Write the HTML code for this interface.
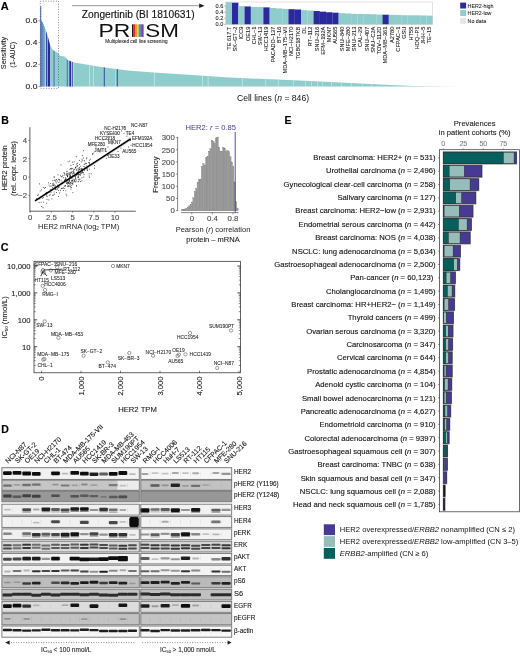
<!DOCTYPE html>
<html lang="en"><head><meta charset="utf-8"><title>Figure</title>
<style>
html,body{margin:0;padding:0;background:#fff;}
body{width:520px;height:656px;overflow:hidden;}
svg{display:block;font-family:"Liberation Sans",sans-serif;}
</style></head><body>
<svg width="520" height="656" viewBox="0 0 520 656">
<rect width="520" height="656" fill="#fff"/>
<text x="0.80" y="9.90" font-size="11" font-weight="bold" fill="#000" stroke="#000" stroke-width="0.15">A</text>
<defs><linearGradient id="fadeA" x1="0" x2="1" y1="0" y2="0"><stop offset="0" stop-color="#8ecdcb"/><stop offset="0.88" stop-color="#8ecdcb"/><stop offset="1" stop-color="#e4f2f1"/></linearGradient><clipPath id="clipA"><path d="M40.2,86.6 L40.2,6.3 L41.2,6.3 L41.2,20.8 L41.5,20.8 L43,23.2 L45.8,30.2 L48,37.2 L50,45 L52.9,49.9 L58.5,53.4 L59.9,55.8 L64.8,56.5 L67.6,60.1 L73.9,62.5 L89.4,65 L101,67 L130,70.7 L154,72.6 L200,75.6 L225,77.3 L260,78.8 L300,80.5 L340,82.6 L380,84.6 L414,85.9 L466,86.4 L466,86.6 Z"/></clipPath></defs>
<path d="M40.2,86.6 L40.2,6.3 L41.2,6.3 L41.2,20.8 L41.5,20.8 L43,23.2 L45.8,30.2 L48,37.2 L50,45 L52.9,49.9 L58.5,53.4 L59.9,55.8 L64.8,56.5 L67.6,60.1 L73.9,62.5 L89.4,65 L101,67 L130,70.7 L154,72.6 L200,75.6 L225,77.3 L260,78.8 L300,80.5 L340,82.6 L380,84.6 L414,85.9 L466,86.4 L466,86.6 Z" fill="url(#fadeA)"/>
<g clip-path="url(#clipA)">
<rect x="40.20" y="0.00" width="1.00" height="90.00" fill="#4a55ae"/>
<rect x="41.20" y="0.00" width="0.80" height="90.00" fill="#4f74b8"/>
<rect x="42.30" y="0.00" width="0.70" height="90.00" fill="#4f74b8"/>
<rect x="43.40" y="0.00" width="0.70" height="90.00" fill="#5a80bd"/>
<rect x="44.60" y="0.00" width="0.60" height="90.00" fill="#5a80bd"/>
<rect x="46.20" y="0.00" width="0.90" height="90.00" fill="#2b2a9c"/>
<rect x="47.90" y="0.00" width="2.10" height="90.00" fill="#2b2a9c"/>
<rect x="53.60" y="0.00" width="0.90" height="90.00" fill="#4a5cb0"/>
<rect x="66.80" y="0.00" width="0.90" height="90.00" fill="#4a5cb0"/>
<rect x="69.40" y="0.00" width="1.60" height="90.00" fill="#2b2a9c"/>
<rect x="72.00" y="0.00" width="0.90" height="90.00" fill="#4a5cb0"/>
<rect x="103.80" y="0.00" width="0.90" height="90.00" fill="#34379f"/>
<rect x="116.80" y="0.00" width="0.90" height="90.00" fill="#34379f"/>
<rect x="45.50" y="0.00" width="0.40" height="90.00" fill="#dcecea"/>
<rect x="73.20" y="0.00" width="0.50" height="90.00" fill="#dcecea"/>
<rect x="89.30" y="0.00" width="0.60" height="90.00" fill="#dcecea"/>
<rect x="93.40" y="0.00" width="0.60" height="90.00" fill="#dcecea"/>
<rect x="115.00" y="0.00" width="0.40" height="90.00" fill="#dcecea"/>
<rect x="154.30" y="0.00" width="0.60" height="90.00" fill="#dcecea"/>
<rect x="202.40" y="0.00" width="0.60" height="90.00" fill="#dcecea"/>
<rect x="207.80" y="0.00" width="0.60" height="90.00" fill="#dcecea"/>
<rect x="242.30" y="0.00" width="0.60" height="90.00" fill="#dcecea"/>
<rect x="265.00" y="0.00" width="0.50" height="90.00" fill="#dcecea"/>
<rect x="278.40" y="0.00" width="0.50" height="90.00" fill="#dcecea"/>
<rect x="293.40" y="0.00" width="0.50" height="90.00" fill="#dcecea"/>
<rect x="305.00" y="0.00" width="0.50" height="90.00" fill="#dcecea"/>
<rect x="311.00" y="0.00" width="0.50" height="90.00" fill="#dcecea"/>
<rect x="317.40" y="0.00" width="0.50" height="90.00" fill="#dcecea"/>
<rect x="322.40" y="0.00" width="0.50" height="90.00" fill="#dcecea"/>
<rect x="331.00" y="0.00" width="0.50" height="90.00" fill="#dcecea"/>
<rect x="341.40" y="0.00" width="0.50" height="90.00" fill="#dcecea"/>
<rect x="351.00" y="0.00" width="0.50" height="90.00" fill="#dcecea"/>
<rect x="362.00" y="0.00" width="0.50" height="90.00" fill="#dcecea"/>
<rect x="371.00" y="0.00" width="0.50" height="90.00" fill="#dcecea"/>
</g>
<text x="25.60" y="23.40" font-size="7.2" fill="#222" stroke="#222" stroke-width="0.10" textLength="11.8" lengthAdjust="spacingAndGlyphs">0.6</text>
<line x1="38.40" y1="20.80" x2="40.00" y2="20.80" stroke="#444" stroke-width="0.5"/>
<text x="25.60" y="45.00" font-size="7.2" fill="#222" stroke="#222" stroke-width="0.10" textLength="11.8" lengthAdjust="spacingAndGlyphs">0.4</text>
<line x1="38.40" y1="42.40" x2="40.00" y2="42.40" stroke="#444" stroke-width="0.5"/>
<text x="25.60" y="67.00" font-size="7.2" fill="#222" stroke="#222" stroke-width="0.10" textLength="11.8" lengthAdjust="spacingAndGlyphs">0.2</text>
<line x1="38.40" y1="64.40" x2="40.00" y2="64.40" stroke="#444" stroke-width="0.5"/>
<text x="25.60" y="88.80" font-size="7.2" fill="#222" stroke="#222" stroke-width="0.10" textLength="11.8" lengthAdjust="spacingAndGlyphs">0.0</text>
<line x1="38.40" y1="86.20" x2="40.00" y2="86.20" stroke="#444" stroke-width="0.5"/>
<text x="5.90" y="53.00" font-size="7.2" text-anchor="middle" fill="#222" stroke="#222" stroke-width="0.10" transform="rotate(-90 5.90 53.00)">Sensitivity</text>
<text x="15.50" y="54.80" font-size="7.0" text-anchor="middle" fill="#222" stroke="#222" stroke-width="0.10" transform="rotate(-90 15.50 54.80)">(1-AUC)</text>
<rect x="40.3" y="1.2" width="18.2" height="87.2" fill="none" stroke="#444" stroke-width="0.6" stroke-dasharray="1 1.6"/>
<line x1="72.00" y1="5.70" x2="200.00" y2="5.70" stroke="#999" stroke-width="1.0"/>
<path d="M199.2,3.5 L204.6,5.7 L199.2,7.9 Z" fill="#222"/>
<text x="138.20" y="18.10" font-size="10.2" text-anchor="middle" fill="#111" stroke="#111" stroke-width="0.14">Zongertinib (BI 1810631)</text>
<text x="98.6" y="36.9" font-size="17.6" fill="#111" textLength="31.8" lengthAdjust="spacingAndGlyphs">PR</text>
<rect x="132.00" y="24.30" width="1.55" height="12.60" fill="#2a1414"/>
<rect x="133.50" y="24.30" width="1.75" height="12.60" fill="#d8262c"/>
<rect x="135.20" y="24.30" width="1.75" height="12.60" fill="#f08a1d"/>
<rect x="136.90" y="24.30" width="1.70" height="12.60" fill="#f4d321"/>
<rect x="138.55" y="24.30" width="1.70" height="12.60" fill="#43b04a"/>
<rect x="140.20" y="24.30" width="1.75" height="12.60" fill="#3a6fc4"/>
<rect x="141.90" y="24.30" width="1.75" height="12.60" fill="#8a3fa8"/>
<text x="145.3" y="36.9" font-size="17.6" fill="#111" textLength="33.6" lengthAdjust="spacingAndGlyphs">SM</text>
<text x="136.50" y="43.10" font-size="4.7" text-anchor="middle" fill="#222" stroke="#222" stroke-width="0.07">Multiplexed cell line screening</text>
<rect x="225.75" y="2.16" width="6.37" height="22.34" fill="#8ecdcb"/>
<text x="230.74" y="26.70" font-size="5.6" text-anchor="end" fill="#222" stroke="#222" stroke-width="0.08" transform="rotate(-90 230.74 26.70)">TE 617.T</text>
<rect x="232.02" y="2.62" width="6.37" height="21.88" fill="#2b2a9c"/>
<text x="237.01" y="26.70" font-size="5.6" text-anchor="end" fill="#222" stroke="#222" stroke-width="0.08" transform="rotate(-90 237.01 26.70)">SK−GT−2</text>
<rect x="238.29" y="6.14" width="6.37" height="18.36" fill="#8ecdcb"/>
<text x="243.28" y="26.70" font-size="5.6" text-anchor="end" fill="#222" stroke="#222" stroke-width="0.08" transform="rotate(-90 243.28 26.70)">ICC9</text>
<rect x="244.56" y="6.45" width="6.37" height="18.05" fill="#2b2a9c"/>
<text x="249.55" y="26.70" font-size="5.6" text-anchor="end" fill="#222" stroke="#222" stroke-width="0.08" transform="rotate(-90 249.55 26.70)">OE19</text>
<rect x="250.83" y="6.91" width="6.37" height="17.59" fill="#8ecdcb"/>
<text x="255.81" y="26.70" font-size="5.6" text-anchor="end" fill="#222" stroke="#222" stroke-width="0.08" transform="rotate(-90 255.81 26.70)">CHL−1</text>
<rect x="257.10" y="7.06" width="6.37" height="17.44" fill="#8ecdcb"/>
<text x="262.09" y="26.70" font-size="5.6" text-anchor="end" fill="#222" stroke="#222" stroke-width="0.08" transform="rotate(-90 262.09 26.70)">SW−13</text>
<rect x="263.37" y="7.36" width="6.37" height="17.14" fill="#2b2a9c"/>
<text x="268.36" y="26.70" font-size="5.6" text-anchor="end" fill="#222" stroke="#222" stroke-width="0.08" transform="rotate(-90 268.36 26.70)">HCC1419</text>
<rect x="269.64" y="7.98" width="6.37" height="16.52" fill="#8ecdcb"/>
<text x="274.62" y="26.70" font-size="5.6" text-anchor="end" fill="#222" stroke="#222" stroke-width="0.08" transform="rotate(-90 274.62 26.70)">PACADD−137</text>
<rect x="275.91" y="8.43" width="6.37" height="16.07" fill="#8ecdcb"/>
<text x="280.90" y="26.70" font-size="5.6" text-anchor="end" fill="#222" stroke="#222" stroke-width="0.08" transform="rotate(-90 280.90 26.70)">BT−16</text>
<rect x="282.18" y="8.89" width="6.37" height="15.61" fill="#8ecdcb"/>
<text x="287.17" y="26.70" font-size="5.6" text-anchor="end" fill="#222" stroke="#222" stroke-width="0.08" transform="rotate(-90 287.17 26.70)">MDA−MB−175−VII</text>
<rect x="288.45" y="9.20" width="6.37" height="15.30" fill="#2b2a9c"/>
<text x="293.44" y="26.70" font-size="5.6" text-anchor="end" fill="#222" stroke="#222" stroke-width="0.08" transform="rotate(-90 293.44 26.70)">NCI−H2170</text>
<rect x="294.72" y="9.51" width="6.37" height="14.99" fill="#2b2a9c"/>
<text x="299.70" y="26.70" font-size="5.6" text-anchor="end" fill="#222" stroke="#222" stroke-width="0.08" transform="rotate(-90 299.70 26.70)">TGBC18TKB</text>
<rect x="300.99" y="10.12" width="6.37" height="14.38" fill="#8ecdcb"/>
<text x="305.98" y="26.70" font-size="5.6" text-anchor="end" fill="#222" stroke="#222" stroke-width="0.08" transform="rotate(-90 305.98 26.70)">DL</text>
<rect x="307.26" y="10.58" width="6.37" height="13.92" fill="#8ecdcb"/>
<text x="312.25" y="26.70" font-size="5.6" text-anchor="end" fill="#222" stroke="#222" stroke-width="0.08" transform="rotate(-90 312.25 26.70)">RT−112</text>
<rect x="313.53" y="11.04" width="6.37" height="13.46" fill="#2b2a9c"/>
<text x="318.52" y="26.70" font-size="5.6" text-anchor="end" fill="#222" stroke="#222" stroke-width="0.08" transform="rotate(-90 318.52 26.70)">SNU−216</text>
<rect x="319.80" y="11.65" width="6.37" height="12.85" fill="#2b2a9c"/>
<text x="324.79" y="26.70" font-size="5.6" text-anchor="end" fill="#222" stroke="#222" stroke-width="0.08" transform="rotate(-90 324.79 26.70)">EFM−192A</text>
<rect x="326.07" y="12.26" width="6.37" height="12.24" fill="#2b2a9c"/>
<text x="331.06" y="26.70" font-size="5.6" text-anchor="end" fill="#222" stroke="#222" stroke-width="0.08" transform="rotate(-90 331.06 26.70)">MKN7</text>
<rect x="332.34" y="12.72" width="6.37" height="11.78" fill="#2b2a9c"/>
<text x="337.32" y="26.70" font-size="5.6" text-anchor="end" fill="#222" stroke="#222" stroke-width="0.08" transform="rotate(-90 337.32 26.70)">AU565</text>
<rect x="338.61" y="13.18" width="6.37" height="11.32" fill="#8ecdcb"/>
<text x="343.59" y="26.70" font-size="5.6" text-anchor="end" fill="#222" stroke="#222" stroke-width="0.08" transform="rotate(-90 343.59 26.70)">SNU−840</text>
<rect x="344.88" y="13.48" width="6.37" height="11.02" fill="#8ecdcb"/>
<text x="349.87" y="26.70" font-size="5.6" text-anchor="end" fill="#222" stroke="#222" stroke-width="0.08" transform="rotate(-90 349.87 26.70)">MFE−280</text>
<rect x="351.15" y="13.79" width="6.37" height="10.71" fill="#8ecdcb"/>
<text x="356.13" y="26.70" font-size="5.6" text-anchor="end" fill="#222" stroke="#222" stroke-width="0.08" transform="rotate(-90 356.13 26.70)">SNU−213</text>
<rect x="357.42" y="13.94" width="6.37" height="10.56" fill="#8ecdcb"/>
<text x="362.41" y="26.70" font-size="5.6" text-anchor="end" fill="#222" stroke="#222" stroke-width="0.08" transform="rotate(-90 362.41 26.70)">CAL−29</text>
<rect x="363.69" y="14.10" width="6.37" height="10.40" fill="#8ecdcb"/>
<text x="368.68" y="26.70" font-size="5.6" text-anchor="end" fill="#222" stroke="#222" stroke-width="0.08" transform="rotate(-90 368.68 26.70)">SNU−407</text>
<rect x="369.96" y="14.25" width="6.37" height="10.25" fill="#8ecdcb"/>
<text x="374.94" y="26.70" font-size="5.6" text-anchor="end" fill="#222" stroke="#222" stroke-width="0.08" transform="rotate(-90 374.94 26.70)">SNU−C2A</text>
<rect x="376.23" y="14.55" width="6.37" height="9.95" fill="#8ecdcb"/>
<text x="381.21" y="26.70" font-size="5.6" text-anchor="end" fill="#222" stroke="#222" stroke-width="0.08" transform="rotate(-90 381.21 26.70)">TOV−112D</text>
<rect x="382.50" y="14.71" width="6.37" height="9.79" fill="#2b2a9c"/>
<text x="387.49" y="26.70" font-size="5.6" text-anchor="end" fill="#222" stroke="#222" stroke-width="0.08" transform="rotate(-90 387.49 26.70)">MDA−MB−361</text>
<rect x="388.77" y="14.86" width="6.37" height="9.64" fill="#8ecdcb"/>
<text x="393.75" y="26.70" font-size="5.6" text-anchor="end" fill="#222" stroke="#222" stroke-width="0.08" transform="rotate(-90 393.75 26.70)">A2780</text>
<rect x="395.04" y="15.01" width="6.37" height="9.49" fill="#8ecdcb"/>
<text x="400.03" y="26.70" font-size="5.6" text-anchor="end" fill="#222" stroke="#222" stroke-width="0.08" transform="rotate(-90 400.03 26.70)">CFPAC−1</text>
<rect x="401.31" y="15.17" width="6.37" height="9.33" fill="#8ecdcb"/>
<text x="406.30" y="26.70" font-size="5.6" text-anchor="end" fill="#222" stroke="#222" stroke-width="0.08" transform="rotate(-90 406.30 26.70)">GSU</text>
<rect x="407.58" y="15.32" width="6.37" height="9.18" fill="#8ecdcb"/>
<text x="412.56" y="26.70" font-size="5.6" text-anchor="end" fill="#222" stroke="#222" stroke-width="0.08" transform="rotate(-90 412.56 26.70)">HT55</text>
<rect x="413.85" y="15.32" width="6.37" height="9.18" fill="#8ecdcb"/>
<text x="418.83" y="26.70" font-size="5.6" text-anchor="end" fill="#222" stroke="#222" stroke-width="0.08" transform="rotate(-90 418.83 26.70)">HDQ−P1</text>
<rect x="420.12" y="15.47" width="6.37" height="9.03" fill="#8ecdcb"/>
<text x="425.10" y="26.70" font-size="5.6" text-anchor="end" fill="#222" stroke="#222" stroke-width="0.08" transform="rotate(-90 425.10 26.70)">JHH−5</text>
<rect x="426.39" y="15.63" width="6.37" height="8.87" fill="#8ecdcb"/>
<text x="431.38" y="26.70" font-size="5.6" text-anchor="end" fill="#222" stroke="#222" stroke-width="0.08" transform="rotate(-90 431.38 26.70)">TE−15</text>
<rect x="225.8" y="2.0" width="206.91" height="22.5" fill="none" stroke="#c8c8c8" stroke-width="0.5"/>
<text x="215.60" y="7.90" font-size="5.0" fill="#222" stroke="#222" stroke-width="0.07" textLength="7.8" lengthAdjust="spacingAndGlyphs">0.6</text>
<line x1="224.20" y1="6.10" x2="225.80" y2="6.10" stroke="#555" stroke-width="0.4"/>
<text x="215.60" y="14.00" font-size="5.0" fill="#222" stroke="#222" stroke-width="0.07" textLength="7.8" lengthAdjust="spacingAndGlyphs">0.4</text>
<line x1="224.20" y1="12.20" x2="225.80" y2="12.20" stroke="#555" stroke-width="0.4"/>
<text x="215.60" y="20.10" font-size="5.0" fill="#222" stroke="#222" stroke-width="0.07" textLength="7.8" lengthAdjust="spacingAndGlyphs">0.2</text>
<line x1="224.20" y1="18.30" x2="225.80" y2="18.30" stroke="#555" stroke-width="0.4"/>
<text x="215.60" y="26.20" font-size="5.0" fill="#222" stroke="#222" stroke-width="0.07" textLength="7.8" lengthAdjust="spacingAndGlyphs">0.0</text>
<line x1="224.20" y1="24.40" x2="225.80" y2="24.40" stroke="#555" stroke-width="0.4"/>
<rect x="460.20" y="2.60" width="5.90" height="5.90" fill="#2b2a9c"/>
<text x="467.60" y="7.50" font-size="5.3" fill="#222" stroke="#222" stroke-width="0.07">HER2-high</text>
<rect x="460.20" y="10.10" width="5.90" height="5.90" fill="#8ecdcb"/>
<text x="467.60" y="15.00" font-size="5.3" fill="#222" stroke="#222" stroke-width="0.07">HER2-low</text>
<rect x="460.20" y="17.90" width="5.90" height="5.90" fill="#e6e6e6"/>
<text x="467.60" y="22.80" font-size="5.3" fill="#222" stroke="#222" stroke-width="0.07">No data</text>
<text x="273" y="101.2" font-size="8.65" text-anchor="middle" fill="#111">Cell lines (<tspan font-style="italic">n</tspan> = 846)</text>
<text x="1.20" y="123.60" font-size="10.5" font-weight="bold" fill="#000" stroke="#000" stroke-width="0.15">B</text>
<path d="M35,199.6 L82,171.1 L130.7,136.8 L130.7,140.8 L82,172.3 L35,202 Z" fill="#9a9a9a" opacity="0.4"/>
<path d="M89.1,176.0h0M68.1,174.8h0M72.9,192.6h0M76.6,186.1h0M64.9,180.2h0M72.6,162.2h0M72.6,175.9h0M55.5,188.0h0M82.5,155.7h0M78.5,173.1h0M66.5,179.1h0M70.9,172.6h0M77.5,177.1h0M70.1,184.3h0M70.2,175.0h0M58.4,187.0h0M78.0,168.9h0M73.8,170.8h0M75.3,175.2h0M57.7,189.3h0M88.7,162.5h0M74.1,161.7h0M68.8,182.5h0M92.4,153.7h0M72.2,177.5h0M58.5,196.6h0M68.6,178.9h0M50.3,183.5h0M82.8,160.7h0M68.5,186.3h0M65.4,181.0h0M83.1,173.0h0M56.5,192.6h0M77.8,172.7h0M52.5,187.6h0M66.1,174.7h0M60.9,164.9h0M86.9,157.8h0M89.8,164.8h0M69.4,177.4h0M80.8,173.6h0M70.8,176.8h0M78.1,173.8h0M65.3,186.1h0M55.9,181.7h0M55.0,186.0h0M76.3,164.0h0M94.5,168.3h0M75.2,175.0h0M67.5,182.8h0M91.2,173.9h0M74.9,181.6h0M73.6,175.4h0M75.1,179.7h0M71.3,168.4h0M69.6,181.1h0M58.6,186.4h0M77.5,163.2h0M71.7,185.3h0M84.2,164.5h0M69.0,183.0h0M54.0,185.9h0M71.6,183.2h0M89.2,173.8h0M68.9,173.7h0M63.9,172.6h0M61.0,183.2h0M62.4,188.3h0M69.7,176.0h0M61.1,180.1h0M87.2,170.0h0M69.8,161.1h0M73.7,171.6h0M86.6,158.8h0M87.3,168.8h0M70.5,173.2h0M75.8,167.4h0M79.8,169.6h0M70.7,168.5h0M55.3,187.6h0M79.0,168.1h0M81.3,168.4h0M76.7,169.4h0M63.6,187.9h0M70.7,177.0h0M66.8,183.4h0M69.7,181.3h0M85.2,163.2h0M87.5,170.3h0M79.1,174.4h0M78.0,174.9h0M79.2,169.7h0M72.5,173.9h0M71.9,181.8h0M66.0,194.2h0M72.1,171.6h0M94.6,165.5h0M81.1,168.7h0M69.3,183.5h0M68.0,182.1h0M64.2,188.5h0M76.3,156.7h0M76.4,170.2h0M58.5,179.4h0M77.3,172.7h0M67.0,175.5h0M86.5,163.4h0M74.1,179.7h0M89.4,177.4h0M68.1,161.8h0M69.8,176.3h0M75.5,176.5h0M82.9,169.8h0M78.1,170.7h0M60.6,175.8h0M74.4,169.4h0M72.8,180.8h0M68.4,185.8h0M66.3,181.1h0M89.6,160.2h0M68.8,179.5h0M64.4,180.3h0M78.8,175.8h0M73.9,176.3h0M71.9,173.1h0M80.2,172.7h0M77.4,166.0h0M76.1,179.2h0M82.0,177.7h0M75.4,167.3h0M66.6,182.9h0M69.1,172.6h0M67.5,186.4h0M74.6,180.7h0M62.1,181.8h0M54.7,194.2h0M73.5,173.2h0M59.6,180.9h0M53.6,185.2h0M76.2,173.2h0M65.7,178.9h0M77.4,174.3h0M67.4,176.0h0M61.7,188.3h0M60.5,190.6h0M67.6,176.6h0M69.9,169.3h0M64.6,186.1h0M69.9,185.3h0M57.6,185.1h0M72.7,168.4h0M55.1,189.4h0M70.7,187.1h0M79.4,160.4h0M83.2,172.5h0M89.3,163.7h0M57.4,181.0h0M80.0,174.7h0M84.4,160.8h0M82.2,172.1h0M63.5,190.5h0M76.6,174.9h0M90.7,159.2h0M58.0,174.9h0M77.2,165.5h0M83.4,158.0h0M65.8,190.8h0M78.3,171.2h0M62.2,176.7h0M64.7,173.5h0M64.6,175.0h0M74.5,173.1h0M71.7,169.1h0M81.9,180.8h0M63.4,177.7h0M71.3,172.4h0M82.0,172.3h0M78.1,181.9h0M59.7,193.0h0M79.1,169.2h0M67.9,181.0h0M76.4,174.9h0M75.5,177.8h0M84.5,170.3h0M73.7,169.8h0M54.5,180.3h0M59.2,186.2h0M79.7,164.5h0M70.1,186.5h0M83.7,169.5h0M75.3,168.3h0M65.3,179.2h0M83.2,166.4h0M64.7,180.7h0M52.6,195.3h0M92.7,154.4h0M54.0,176.9h0M78.8,174.5h0M81.8,169.4h0M74.0,176.5h0M56.2,189.8h0M82.5,168.9h0M58.5,190.5h0M59.5,179.4h0M69.1,179.1h0M80.3,166.3h0M75.5,167.5h0M80.5,175.1h0M68.3,182.8h0M70.9,165.5h0M61.5,176.7h0M69.5,180.2h0M78.4,179.3h0M69.7,174.2h0M77.2,172.3h0M67.0,171.3h0M66.8,195.7h0M73.0,179.1h0M70.7,183.2h0M78.4,176.8h0M74.3,181.1h0M89.6,169.2h0M70.5,175.7h0M70.4,182.5h0M62.5,183.5h0M72.8,184.3h0M79.3,167.6h0M65.4,177.8h0M72.1,180.8h0M79.6,179.8h0M71.4,178.1h0M67.5,175.3h0M82.1,169.5h0M73.5,172.7h0M76.5,185.7h0M84.0,174.6h0M83.8,177.0h0M69.2,180.5h0M67.5,176.3h0M75.4,181.9h0M71.3,187.5h0M54.1,192.0h0M85.0,168.2h0M72.8,183.0h0M79.8,169.5h0M61.2,188.6h0M85.2,163.9h0M66.9,174.1h0M71.6,180.6h0M58.9,187.4h0M71.0,189.3h0M70.4,176.2h0M70.8,177.8h0M76.9,166.6h0M73.2,164.5h0M82.1,159.2h0M68.0,182.3h0M62.9,175.4h0M72.4,183.5h0M78.7,181.3h0M84.7,166.8h0M80.5,181.6h0M55.4,189.0h0M76.3,181.0h0M86.8,165.8h0M73.2,182.0h0M67.6,173.8h0M75.6,178.3h0M67.7,176.8h0M78.8,171.6h0M72.5,180.4h0M86.2,168.7h0M77.5,172.8h0M65.5,185.5h0M78.5,177.6h0M81.7,161.9h0M67.1,183.5h0M68.4,183.3h0M50.1,186.3h0M81.4,173.1h0M66.9,171.9h0M51.9,198.8h0M55.4,186.1h0M70.4,177.4h0M80.0,179.1h0M46.6,192.4h0M50.2,194.7h0M40.2,191.0h0M38.6,194.9h0M52.8,180.6h0M50.3,189.6h0M47.0,199.4h0M55.3,189.0h0M41.1,202.3h0M44.5,188.3h0M53.7,183.2h0M58.8,182.5h0M47.2,196.4h0M57.8,188.2h0M43.3,195.3h0M49.3,195.4h0M46.1,192.7h0M37.1,199.3h0M48.8,199.9h0M53.1,185.4h0M46.2,194.7h0M46.7,203.2h0M56.0,187.8h0M39.2,202.5h0M37.6,195.3h0M43.0,207.7h0M39.5,183.9h0M55.7,180.3h0M49.1,185.1h0M41.7,206.5h0M43.3,197.6h0M65.4,179.5h0M43.3,187.5h0M42.3,198.3h0M49.1,192.4h0M51.2,186.0h0M48.6,182.8h0M41.4,189.8h0M39.8,199.0h0M51.0,192.4h0M46.8,193.6h0M36.7,198.7h0M54.6,177.1h0M52.1,190.0h0M45.6,187.5h0M104.3,156.1h0M46.8,196.0h0M56.2,182.9h0M66.5,174.0h0M53.5,195.0h0M82.6,172.1h0M54.1,184.5h0M83.6,150.7h0M113.9,149.4h0M106.5,158.3h0M43.6,202.2h0M52.7,185.2h0M69.9,174.2h0M89.5,162.7h0M67.7,184.8h0M56.4,179.6h0M64.2,181.2h0M52.4,183.8h0M107.6,155.4h0M93.8,153.0h0M103.0,140.0h0M108.0,137.5h0M113.0,134.6h0M117.0,133.0h0M121.5,131.0h0M124.0,133.5h0M127.0,136.2h0M130.5,140.6h0M131.0,145.3h0M128.5,147.0h0M121.0,148.2h0M118.0,151.5h0M112.0,144.0h0M108.0,147.0h0M124.5,127.2h0M96.0,147.0h0M100.0,152.0h0M105.0,150.0h0" stroke="#1c1c1c" stroke-width="0.92" stroke-linecap="round" fill="none" opacity="0.95"/>
<line x1="35.00" y1="200.80" x2="130.70" y2="138.80" stroke="#000" stroke-width="1.5"/>
<line x1="29.90" y1="127.20" x2="29.90" y2="211.55" stroke="#2a2a2a" stroke-width="0.75"/>
<line x1="29.55" y1="211.20" x2="135.80" y2="211.20" stroke="#2a2a2a" stroke-width="0.75"/>
<text x="27.00" y="143.20" font-size="7.8" text-anchor="end" fill="#4a4a4a" stroke="#4a4a4a" stroke-width="0.11">4</text>
<line x1="28.30" y1="140.40" x2="29.90" y2="140.40" stroke="#333" stroke-width="0.5"/>
<text x="27.00" y="161.50" font-size="7.8" text-anchor="end" fill="#4a4a4a" stroke="#4a4a4a" stroke-width="0.11">2</text>
<line x1="28.30" y1="158.70" x2="29.90" y2="158.70" stroke="#333" stroke-width="0.5"/>
<text x="27.00" y="179.80" font-size="7.8" text-anchor="end" fill="#4a4a4a" stroke="#4a4a4a" stroke-width="0.11">0</text>
<line x1="28.30" y1="177.00" x2="29.90" y2="177.00" stroke="#333" stroke-width="0.5"/>
<text x="27.00" y="198.10" font-size="7.8" text-anchor="end" fill="#4a4a4a" stroke="#4a4a4a" stroke-width="0.11">−2</text>
<line x1="28.30" y1="195.30" x2="29.90" y2="195.30" stroke="#333" stroke-width="0.5"/>
<text x="30.20" y="219.90" font-size="7.8" text-anchor="middle" fill="#4a4a4a" stroke="#4a4a4a" stroke-width="0.11">0</text>
<line x1="30.20" y1="211.20" x2="30.20" y2="212.80" stroke="#333" stroke-width="0.5"/>
<text x="51.40" y="219.90" font-size="7.8" text-anchor="middle" fill="#4a4a4a" stroke="#4a4a4a" stroke-width="0.11">2.5</text>
<line x1="51.40" y1="211.20" x2="51.40" y2="212.80" stroke="#333" stroke-width="0.5"/>
<text x="72.60" y="219.90" font-size="7.8" text-anchor="middle" fill="#4a4a4a" stroke="#4a4a4a" stroke-width="0.11">5</text>
<line x1="72.60" y1="211.20" x2="72.60" y2="212.80" stroke="#333" stroke-width="0.5"/>
<text x="93.80" y="219.90" font-size="7.8" text-anchor="middle" fill="#4a4a4a" stroke="#4a4a4a" stroke-width="0.11">7.5</text>
<line x1="93.80" y1="211.20" x2="93.80" y2="212.80" stroke="#333" stroke-width="0.5"/>
<text x="115.00" y="219.90" font-size="7.8" text-anchor="middle" fill="#4a4a4a" stroke="#4a4a4a" stroke-width="0.11">10</text>
<line x1="115.00" y1="211.20" x2="115.00" y2="212.80" stroke="#333" stroke-width="0.5"/>
<text x="78.6" y="228.9" font-size="7.5" text-anchor="middle" fill="#222">HER2 mRNA (log<tspan font-size="4.6" dy="1.3">2</tspan><tspan dy="-1.3"> TPM)</tspan></text>
<text x="6.80" y="167.80" font-size="7.5" text-anchor="middle" fill="#222" stroke="#222" stroke-width="0.10" transform="rotate(-90 6.80 167.80)">HER2 protein</text>
<text x="16.00" y="168.60" font-size="7.5" text-anchor="middle" fill="#222" stroke="#222" stroke-width="0.10" transform="rotate(-90 16.00 168.60)">(rel. expr. levels)</text>
<text x="104.30" y="129.65" font-size="4.6" fill="#222" stroke="#222" stroke-width="0.07">NC-H2170</text>
<text x="131.00" y="127.35" font-size="4.6" fill="#222" stroke="#222" stroke-width="0.07">NC-N87</text>
<text x="100.00" y="134.65" font-size="4.6" fill="#222" stroke="#222" stroke-width="0.07">KYSE410</text>
<text x="125.80" y="135.45" font-size="4.6" fill="#222" stroke="#222" stroke-width="0.07">TE4</text>
<text x="95.00" y="139.65" font-size="4.6" fill="#222" stroke="#222" stroke-width="0.07">HCC2218</text>
<text x="132.00" y="140.45" font-size="4.6" fill="#222" stroke="#222" stroke-width="0.07">EFM192A</text>
<text x="87.70" y="145.85" font-size="4.6" fill="#222" stroke="#222" stroke-width="0.07">MFE280</text>
<text x="108.00" y="143.85" font-size="4.6" fill="#222" stroke="#222" stroke-width="0.07">MKN7</text>
<text x="132.30" y="146.85" font-size="4.6" fill="#222" stroke="#222" stroke-width="0.07">HCC1954</text>
<text x="94.20" y="151.95" font-size="4.6" fill="#222" stroke="#222" stroke-width="0.07">JIMT1</text>
<text x="122.30" y="152.65" font-size="4.6" fill="#222" stroke="#222" stroke-width="0.07">AU565</text>
<text x="107.70" y="158.15" font-size="4.6" fill="#222" stroke="#222" stroke-width="0.07">OE33</text>
<rect x="181.50" y="210.20" width="56.65" height="0.80" fill="#8c8c8c"/>
<rect x="181.50" y="209.73" width="1.42" height="0.87" fill="#9b9b9b" stroke="#7e7e7e" stroke-width="0.3"/>
<rect x="182.92" y="209.43" width="1.42" height="1.17" fill="#9b9b9b" stroke="#7e7e7e" stroke-width="0.3"/>
<rect x="184.33" y="208.98" width="1.42" height="1.62" fill="#9b9b9b" stroke="#7e7e7e" stroke-width="0.3"/>
<rect x="185.75" y="208.25" width="1.42" height="2.35" fill="#9b9b9b" stroke="#7e7e7e" stroke-width="0.3"/>
<rect x="187.17" y="207.03" width="1.42" height="3.57" fill="#9b9b9b" stroke="#7e7e7e" stroke-width="0.3"/>
<rect x="188.58" y="205.85" width="1.42" height="4.75" fill="#9b9b9b" stroke="#7e7e7e" stroke-width="0.3"/>
<rect x="190.00" y="204.64" width="1.42" height="5.96" fill="#9b9b9b" stroke="#7e7e7e" stroke-width="0.3"/>
<rect x="191.41" y="202.07" width="1.42" height="8.53" fill="#9b9b9b" stroke="#7e7e7e" stroke-width="0.3"/>
<rect x="192.83" y="197.58" width="1.42" height="13.02" fill="#9b9b9b" stroke="#7e7e7e" stroke-width="0.3"/>
<rect x="194.25" y="191.69" width="1.42" height="18.91" fill="#9b9b9b" stroke="#7e7e7e" stroke-width="0.3"/>
<rect x="195.66" y="188.30" width="1.42" height="22.30" fill="#9b9b9b" stroke="#7e7e7e" stroke-width="0.3"/>
<rect x="197.08" y="182.12" width="1.42" height="28.48" fill="#9b9b9b" stroke="#7e7e7e" stroke-width="0.3"/>
<rect x="198.50" y="179.18" width="1.42" height="31.42" fill="#9b9b9b" stroke="#7e7e7e" stroke-width="0.3"/>
<rect x="199.91" y="179.49" width="1.42" height="31.11" fill="#9b9b9b" stroke="#7e7e7e" stroke-width="0.3"/>
<rect x="201.33" y="166.63" width="1.42" height="43.97" fill="#9b9b9b" stroke="#7e7e7e" stroke-width="0.3"/>
<rect x="202.74" y="163.70" width="1.42" height="46.90" fill="#9b9b9b" stroke="#7e7e7e" stroke-width="0.3"/>
<rect x="204.16" y="165.16" width="1.42" height="45.44" fill="#9b9b9b" stroke="#7e7e7e" stroke-width="0.3"/>
<rect x="205.58" y="157.24" width="1.42" height="53.36" fill="#9b9b9b" stroke="#7e7e7e" stroke-width="0.3"/>
<rect x="206.99" y="156.23" width="1.42" height="54.37" fill="#9b9b9b" stroke="#7e7e7e" stroke-width="0.3"/>
<rect x="208.41" y="151.14" width="1.42" height="59.46" fill="#9b9b9b" stroke="#7e7e7e" stroke-width="0.3"/>
<rect x="209.83" y="148.62" width="1.42" height="61.98" fill="#9b9b9b" stroke="#7e7e7e" stroke-width="0.3"/>
<rect x="211.24" y="140.37" width="1.42" height="70.23" fill="#9b9b9b" stroke="#7e7e7e" stroke-width="0.3"/>
<rect x="212.66" y="141.26" width="1.42" height="69.34" fill="#9b9b9b" stroke="#7e7e7e" stroke-width="0.3"/>
<rect x="214.07" y="143.55" width="1.42" height="67.05" fill="#9b9b9b" stroke="#7e7e7e" stroke-width="0.3"/>
<rect x="215.49" y="137.86" width="1.42" height="72.74" fill="#9b9b9b" stroke="#7e7e7e" stroke-width="0.3"/>
<rect x="216.91" y="137.09" width="1.42" height="73.51" fill="#9b9b9b" stroke="#7e7e7e" stroke-width="0.3"/>
<rect x="218.32" y="147.15" width="1.42" height="63.45" fill="#9b9b9b" stroke="#7e7e7e" stroke-width="0.3"/>
<rect x="219.74" y="151.02" width="1.42" height="59.58" fill="#9b9b9b" stroke="#7e7e7e" stroke-width="0.3"/>
<rect x="221.16" y="151.39" width="1.42" height="59.21" fill="#9b9b9b" stroke="#7e7e7e" stroke-width="0.3"/>
<rect x="222.57" y="147.29" width="1.42" height="63.31" fill="#9b9b9b" stroke="#7e7e7e" stroke-width="0.3"/>
<rect x="223.99" y="148.00" width="1.42" height="62.60" fill="#9b9b9b" stroke="#7e7e7e" stroke-width="0.3"/>
<rect x="225.40" y="151.63" width="1.42" height="58.97" fill="#9b9b9b" stroke="#7e7e7e" stroke-width="0.3"/>
<rect x="226.82" y="150.36" width="1.42" height="60.24" fill="#9b9b9b" stroke="#7e7e7e" stroke-width="0.3"/>
<rect x="228.24" y="151.78" width="1.42" height="58.82" fill="#9b9b9b" stroke="#7e7e7e" stroke-width="0.3"/>
<rect x="229.65" y="156.80" width="1.42" height="53.80" fill="#9b9b9b" stroke="#7e7e7e" stroke-width="0.3"/>
<rect x="231.07" y="161.98" width="1.42" height="48.62" fill="#9b9b9b" stroke="#7e7e7e" stroke-width="0.3"/>
<rect x="232.49" y="166.20" width="1.42" height="44.40" fill="#9b9b9b" stroke="#7e7e7e" stroke-width="0.3"/>
<rect x="233.90" y="182.02" width="1.42" height="28.58" fill="#9b9b9b" stroke="#7e7e7e" stroke-width="0.3"/>
<rect x="235.32" y="201.82" width="1.42" height="8.78" fill="#9b9b9b" stroke="#7e7e7e" stroke-width="0.3"/>
<rect x="236.73" y="208.01" width="1.42" height="2.59" fill="#9b9b9b" stroke="#7e7e7e" stroke-width="0.3"/>
<line x1="177.60" y1="136.90" x2="177.60" y2="210.90" stroke="#333" stroke-width="0.6"/>
<text x="174.80" y="213.40" font-size="7.8" text-anchor="end" fill="#4a4a4a" stroke="#4a4a4a" stroke-width="0.11">0</text>
<line x1="175.90" y1="210.60" x2="177.60" y2="210.60" stroke="#333" stroke-width="0.5"/>
<text x="174.80" y="201.23" font-size="7.8" text-anchor="end" fill="#4a4a4a" stroke="#4a4a4a" stroke-width="0.11">50</text>
<line x1="175.90" y1="198.43" x2="177.60" y2="198.43" stroke="#333" stroke-width="0.5"/>
<text x="174.80" y="189.06" font-size="7.8" text-anchor="end" fill="#4a4a4a" stroke="#4a4a4a" stroke-width="0.11">100</text>
<line x1="175.90" y1="186.26" x2="177.60" y2="186.26" stroke="#333" stroke-width="0.5"/>
<text x="174.80" y="176.89" font-size="7.8" text-anchor="end" fill="#4a4a4a" stroke="#4a4a4a" stroke-width="0.11">150</text>
<line x1="175.90" y1="174.09" x2="177.60" y2="174.09" stroke="#333" stroke-width="0.5"/>
<text x="174.80" y="164.72" font-size="7.8" text-anchor="end" fill="#4a4a4a" stroke="#4a4a4a" stroke-width="0.11">200</text>
<line x1="175.90" y1="161.92" x2="177.60" y2="161.92" stroke="#333" stroke-width="0.5"/>
<text x="174.80" y="152.55" font-size="7.8" text-anchor="end" fill="#4a4a4a" stroke="#4a4a4a" stroke-width="0.11">250</text>
<line x1="175.90" y1="149.75" x2="177.60" y2="149.75" stroke="#333" stroke-width="0.5"/>
<text x="174.80" y="140.38" font-size="7.8" text-anchor="end" fill="#4a4a4a" stroke="#4a4a4a" stroke-width="0.11">300</text>
<line x1="175.90" y1="137.58" x2="177.60" y2="137.58" stroke="#333" stroke-width="0.5"/>
<line x1="181.30" y1="212.60" x2="238.60" y2="212.60" stroke="#333" stroke-width="0.6"/>
<text x="191.80" y="221.40" font-size="7.8" text-anchor="middle" fill="#4a4a4a" stroke="#4a4a4a" stroke-width="0.11">0</text>
<line x1="191.80" y1="212.60" x2="191.80" y2="214.30" stroke="#333" stroke-width="0.5"/>
<text x="212.40" y="221.40" font-size="7.8" text-anchor="middle" fill="#4a4a4a" stroke="#4a4a4a" stroke-width="0.11">0.4</text>
<line x1="212.40" y1="212.60" x2="212.40" y2="214.30" stroke="#333" stroke-width="0.5"/>
<text x="233.00" y="221.40" font-size="7.8" text-anchor="middle" fill="#4a4a4a" stroke="#4a4a4a" stroke-width="0.11">0.8</text>
<line x1="233.00" y1="212.60" x2="233.00" y2="214.30" stroke="#333" stroke-width="0.5"/>
<line x1="235.20" y1="132.00" x2="235.20" y2="212.60" stroke="#3f3a96" stroke-width="0.9"/>
<text x="210.8" y="130.4" font-size="7.6" text-anchor="middle" fill="#3f3a96">HER2: <tspan font-style="italic">r</tspan> = 0.85</text>
<text x="157.80" y="174.60" font-size="7.7" text-anchor="middle" fill="#222" stroke="#222" stroke-width="0.11" transform="rotate(-90 157.80 174.60)">Frequency</text>
<text x="213" y="231.6" font-size="7.5" text-anchor="middle" fill="#222">Pearson (<tspan font-style="italic">r</tspan>) correlation</text>
<text x="213.00" y="241.60" font-size="7.5" text-anchor="middle" fill="#222" stroke="#222" stroke-width="0.10">protein – mRNA</text>
<text x="0.70" y="250.50" font-size="10.8" font-weight="bold" fill="#000" stroke="#000" stroke-width="0.15">C</text>
<rect x="34.0" y="261.3" width="206.5" height="111.5" fill="none" stroke="#222" stroke-width="0.7"/>
<text x="30.60" y="268.80" font-size="7.7" text-anchor="end" fill="#222" stroke="#222" stroke-width="0.11">10,000</text>
<line x1="34.00" y1="266.00" x2="37.20" y2="266.00" stroke="#222" stroke-width="0.8"/>
<line x1="237.30" y1="266.00" x2="240.50" y2="266.00" stroke="#222" stroke-width="0.8"/>
<text x="30.60" y="295.70" font-size="7.7" text-anchor="end" fill="#222" stroke="#222" stroke-width="0.11">1,000</text>
<line x1="34.00" y1="292.90" x2="37.20" y2="292.90" stroke="#222" stroke-width="0.8"/>
<line x1="237.30" y1="292.90" x2="240.50" y2="292.90" stroke="#222" stroke-width="0.8"/>
<text x="30.60" y="322.60" font-size="7.7" text-anchor="end" fill="#222" stroke="#222" stroke-width="0.11">100</text>
<line x1="34.00" y1="319.80" x2="37.20" y2="319.80" stroke="#222" stroke-width="0.8"/>
<line x1="237.30" y1="319.80" x2="240.50" y2="319.80" stroke="#222" stroke-width="0.8"/>
<text x="30.60" y="349.50" font-size="7.7" text-anchor="end" fill="#222" stroke="#222" stroke-width="0.11">10</text>
<line x1="34.00" y1="346.70" x2="37.20" y2="346.70" stroke="#222" stroke-width="0.8"/>
<line x1="237.30" y1="346.70" x2="240.50" y2="346.70" stroke="#222" stroke-width="0.8"/>
<line x1="34.00" y1="365.50" x2="35.70" y2="365.50" stroke="#222" stroke-width="0.55"/>
<line x1="238.80" y1="365.50" x2="240.50" y2="365.50" stroke="#222" stroke-width="0.55"/>
<line x1="34.00" y1="360.77" x2="35.70" y2="360.77" stroke="#222" stroke-width="0.55"/>
<line x1="238.80" y1="360.77" x2="240.50" y2="360.77" stroke="#222" stroke-width="0.55"/>
<line x1="34.00" y1="357.40" x2="35.70" y2="357.40" stroke="#222" stroke-width="0.55"/>
<line x1="238.80" y1="357.40" x2="240.50" y2="357.40" stroke="#222" stroke-width="0.55"/>
<line x1="34.00" y1="354.80" x2="35.70" y2="354.80" stroke="#222" stroke-width="0.55"/>
<line x1="238.80" y1="354.80" x2="240.50" y2="354.80" stroke="#222" stroke-width="0.55"/>
<line x1="34.00" y1="352.67" x2="35.70" y2="352.67" stroke="#222" stroke-width="0.55"/>
<line x1="238.80" y1="352.67" x2="240.50" y2="352.67" stroke="#222" stroke-width="0.55"/>
<line x1="34.00" y1="350.87" x2="35.70" y2="350.87" stroke="#222" stroke-width="0.55"/>
<line x1="238.80" y1="350.87" x2="240.50" y2="350.87" stroke="#222" stroke-width="0.55"/>
<line x1="34.00" y1="349.31" x2="35.70" y2="349.31" stroke="#222" stroke-width="0.55"/>
<line x1="238.80" y1="349.31" x2="240.50" y2="349.31" stroke="#222" stroke-width="0.55"/>
<line x1="34.00" y1="347.93" x2="35.70" y2="347.93" stroke="#222" stroke-width="0.55"/>
<line x1="238.80" y1="347.93" x2="240.50" y2="347.93" stroke="#222" stroke-width="0.55"/>
<line x1="34.00" y1="338.60" x2="35.70" y2="338.60" stroke="#222" stroke-width="0.55"/>
<line x1="238.80" y1="338.60" x2="240.50" y2="338.60" stroke="#222" stroke-width="0.55"/>
<line x1="34.00" y1="333.87" x2="35.70" y2="333.87" stroke="#222" stroke-width="0.55"/>
<line x1="238.80" y1="333.87" x2="240.50" y2="333.87" stroke="#222" stroke-width="0.55"/>
<line x1="34.00" y1="330.50" x2="35.70" y2="330.50" stroke="#222" stroke-width="0.55"/>
<line x1="238.80" y1="330.50" x2="240.50" y2="330.50" stroke="#222" stroke-width="0.55"/>
<line x1="34.00" y1="327.90" x2="35.70" y2="327.90" stroke="#222" stroke-width="0.55"/>
<line x1="238.80" y1="327.90" x2="240.50" y2="327.90" stroke="#222" stroke-width="0.55"/>
<line x1="34.00" y1="325.77" x2="35.70" y2="325.77" stroke="#222" stroke-width="0.55"/>
<line x1="238.80" y1="325.77" x2="240.50" y2="325.77" stroke="#222" stroke-width="0.55"/>
<line x1="34.00" y1="323.97" x2="35.70" y2="323.97" stroke="#222" stroke-width="0.55"/>
<line x1="238.80" y1="323.97" x2="240.50" y2="323.97" stroke="#222" stroke-width="0.55"/>
<line x1="34.00" y1="322.41" x2="35.70" y2="322.41" stroke="#222" stroke-width="0.55"/>
<line x1="238.80" y1="322.41" x2="240.50" y2="322.41" stroke="#222" stroke-width="0.55"/>
<line x1="34.00" y1="321.03" x2="35.70" y2="321.03" stroke="#222" stroke-width="0.55"/>
<line x1="238.80" y1="321.03" x2="240.50" y2="321.03" stroke="#222" stroke-width="0.55"/>
<line x1="34.00" y1="311.70" x2="35.70" y2="311.70" stroke="#222" stroke-width="0.55"/>
<line x1="238.80" y1="311.70" x2="240.50" y2="311.70" stroke="#222" stroke-width="0.55"/>
<line x1="34.00" y1="306.97" x2="35.70" y2="306.97" stroke="#222" stroke-width="0.55"/>
<line x1="238.80" y1="306.97" x2="240.50" y2="306.97" stroke="#222" stroke-width="0.55"/>
<line x1="34.00" y1="303.60" x2="35.70" y2="303.60" stroke="#222" stroke-width="0.55"/>
<line x1="238.80" y1="303.60" x2="240.50" y2="303.60" stroke="#222" stroke-width="0.55"/>
<line x1="34.00" y1="301.00" x2="35.70" y2="301.00" stroke="#222" stroke-width="0.55"/>
<line x1="238.80" y1="301.00" x2="240.50" y2="301.00" stroke="#222" stroke-width="0.55"/>
<line x1="34.00" y1="298.87" x2="35.70" y2="298.87" stroke="#222" stroke-width="0.55"/>
<line x1="238.80" y1="298.87" x2="240.50" y2="298.87" stroke="#222" stroke-width="0.55"/>
<line x1="34.00" y1="297.07" x2="35.70" y2="297.07" stroke="#222" stroke-width="0.55"/>
<line x1="238.80" y1="297.07" x2="240.50" y2="297.07" stroke="#222" stroke-width="0.55"/>
<line x1="34.00" y1="295.51" x2="35.70" y2="295.51" stroke="#222" stroke-width="0.55"/>
<line x1="238.80" y1="295.51" x2="240.50" y2="295.51" stroke="#222" stroke-width="0.55"/>
<line x1="34.00" y1="294.13" x2="35.70" y2="294.13" stroke="#222" stroke-width="0.55"/>
<line x1="238.80" y1="294.13" x2="240.50" y2="294.13" stroke="#222" stroke-width="0.55"/>
<line x1="34.00" y1="284.80" x2="35.70" y2="284.80" stroke="#222" stroke-width="0.55"/>
<line x1="238.80" y1="284.80" x2="240.50" y2="284.80" stroke="#222" stroke-width="0.55"/>
<line x1="34.00" y1="280.07" x2="35.70" y2="280.07" stroke="#222" stroke-width="0.55"/>
<line x1="238.80" y1="280.07" x2="240.50" y2="280.07" stroke="#222" stroke-width="0.55"/>
<line x1="34.00" y1="276.70" x2="35.70" y2="276.70" stroke="#222" stroke-width="0.55"/>
<line x1="238.80" y1="276.70" x2="240.50" y2="276.70" stroke="#222" stroke-width="0.55"/>
<line x1="34.00" y1="274.10" x2="35.70" y2="274.10" stroke="#222" stroke-width="0.55"/>
<line x1="238.80" y1="274.10" x2="240.50" y2="274.10" stroke="#222" stroke-width="0.55"/>
<line x1="34.00" y1="271.97" x2="35.70" y2="271.97" stroke="#222" stroke-width="0.55"/>
<line x1="238.80" y1="271.97" x2="240.50" y2="271.97" stroke="#222" stroke-width="0.55"/>
<line x1="34.00" y1="270.17" x2="35.70" y2="270.17" stroke="#222" stroke-width="0.55"/>
<line x1="238.80" y1="270.17" x2="240.50" y2="270.17" stroke="#222" stroke-width="0.55"/>
<line x1="34.00" y1="268.61" x2="35.70" y2="268.61" stroke="#222" stroke-width="0.55"/>
<line x1="238.80" y1="268.61" x2="240.50" y2="268.61" stroke="#222" stroke-width="0.55"/>
<line x1="34.00" y1="267.23" x2="35.70" y2="267.23" stroke="#222" stroke-width="0.55"/>
<line x1="238.80" y1="267.23" x2="240.50" y2="267.23" stroke="#222" stroke-width="0.55"/>
<line x1="41.50" y1="372.80" x2="41.50" y2="370.80" stroke="#222" stroke-width="0.6"/>
<text x="44.30" y="376.60" font-size="7.6" text-anchor="end" fill="#222" stroke="#222" stroke-width="0.11" transform="rotate(-90 44.30 376.60)">0</text>
<line x1="81.00" y1="372.80" x2="81.00" y2="370.80" stroke="#222" stroke-width="0.6"/>
<text x="83.80" y="376.60" font-size="7.6" text-anchor="end" fill="#222" stroke="#222" stroke-width="0.11" transform="rotate(-90 83.80 376.60)">1,000</text>
<line x1="120.50" y1="372.80" x2="120.50" y2="370.80" stroke="#222" stroke-width="0.6"/>
<text x="123.30" y="376.60" font-size="7.6" text-anchor="end" fill="#222" stroke="#222" stroke-width="0.11" transform="rotate(-90 123.30 376.60)">2,000</text>
<line x1="160.00" y1="372.80" x2="160.00" y2="370.80" stroke="#222" stroke-width="0.6"/>
<text x="162.80" y="376.60" font-size="7.6" text-anchor="end" fill="#222" stroke="#222" stroke-width="0.11" transform="rotate(-90 162.80 376.60)">3,000</text>
<line x1="199.50" y1="372.80" x2="199.50" y2="370.80" stroke="#222" stroke-width="0.6"/>
<text x="202.30" y="376.60" font-size="7.6" text-anchor="end" fill="#222" stroke="#222" stroke-width="0.11" transform="rotate(-90 202.30 376.60)">4,000</text>
<line x1="239.00" y1="372.80" x2="239.00" y2="370.80" stroke="#222" stroke-width="0.6"/>
<text x="241.80" y="376.60" font-size="7.6" text-anchor="end" fill="#222" stroke="#222" stroke-width="0.11" transform="rotate(-90 241.80 376.60)">5,000</text>
<text x="6.6" y="317.5" font-size="7.6" text-anchor="middle" fill="#222" stroke="#222" stroke-width="0.1" transform="rotate(-90 6.6 317.5)">IC<tspan font-size="4.4" dy="1.4">50</tspan><tspan dy="-1.4"> (nmol/L)</tspan></text>
<text x="137.50" y="411.70" font-size="7.7" text-anchor="middle" fill="#222" stroke="#222" stroke-width="0.11">HER2 TPM</text>
<circle cx="113" cy="266" r="1.65" fill="none" stroke="#3a3a3a" stroke-width="0.5"/>
<circle cx="35.6" cy="265.2" r="1.65" fill="none" stroke="#3a3a3a" stroke-width="0.5"/>
<circle cx="57.2" cy="267.3" r="1.65" fill="none" stroke="#3a3a3a" stroke-width="0.5"/>
<circle cx="50.8" cy="270.4" r="1.65" fill="none" stroke="#3a3a3a" stroke-width="0.5"/>
<circle cx="43" cy="270" r="1.65" fill="none" stroke="#3a3a3a" stroke-width="0.5"/>
<circle cx="42.4" cy="271.6" r="1.65" fill="none" stroke="#3a3a3a" stroke-width="0.5"/>
<circle cx="44" cy="272.6" r="1.65" fill="none" stroke="#3a3a3a" stroke-width="0.5"/>
<circle cx="42.7" cy="285.8" r="1.65" fill="none" stroke="#3a3a3a" stroke-width="0.5"/>
<circle cx="45.1" cy="290.0" r="1.65" fill="none" stroke="#3a3a3a" stroke-width="0.5"/>
<circle cx="44.7" cy="321.4" r="1.65" fill="none" stroke="#3a3a3a" stroke-width="0.5"/>
<circle cx="58.4" cy="337.8" r="1.65" fill="none" stroke="#3a3a3a" stroke-width="0.5"/>
<circle cx="44.4" cy="359.0" r="1.65" fill="none" stroke="#3a3a3a" stroke-width="0.5"/>
<circle cx="43.2" cy="359.7" r="1.65" fill="none" stroke="#3a3a3a" stroke-width="0.5"/>
<circle cx="83.6" cy="355.7" r="1.65" fill="none" stroke="#3a3a3a" stroke-width="0.5"/>
<circle cx="107.8" cy="362.4" r="1.65" fill="none" stroke="#3a3a3a" stroke-width="0.5"/>
<circle cx="129.3" cy="353.0" r="1.65" fill="none" stroke="#3a3a3a" stroke-width="0.5"/>
<circle cx="153" cy="355.7" r="1.65" fill="none" stroke="#3a3a3a" stroke-width="0.5"/>
<circle cx="178.9" cy="354.6" r="1.65" fill="none" stroke="#3a3a3a" stroke-width="0.5"/>
<circle cx="177.6" cy="355.9" r="1.65" fill="none" stroke="#3a3a3a" stroke-width="0.5"/>
<circle cx="185.5" cy="354.4" r="1.65" fill="none" stroke="#3a3a3a" stroke-width="0.5"/>
<circle cx="190" cy="333" r="1.65" fill="none" stroke="#3a3a3a" stroke-width="0.5"/>
<circle cx="231" cy="330.5" r="1.65" fill="none" stroke="#3a3a3a" stroke-width="0.5"/>
<circle cx="217.2" cy="368" r="1.65" fill="none" stroke="#3a3a3a" stroke-width="0.5"/>
<path d="M43.5,270 L62.6,269.2 M43,271.5 L40.8,276.2 M43.5,272 L47,276" stroke="#111" stroke-width="0.8" fill="none"/>
<text x="116.20" y="267.95" font-size="4.9" fill="#222" stroke="#222" stroke-width="0.07">MKN7</text>
<text x="34.60" y="265.75" font-size="4.9" fill="#222" stroke="#222" stroke-width="0.07">CFPAC−1</text>
<text x="55.80" y="265.75" font-size="4.9" fill="#222" stroke="#222" stroke-width="0.07">SNU−216</text>
<text x="63.20" y="270.55" font-size="4.9" fill="#222" stroke="#222" stroke-width="0.07">RT−112</text>
<text x="54.40" y="274.45" font-size="4.9" fill="#222" stroke="#222" stroke-width="0.07">MFE−280</text>
<text x="51.00" y="279.75" font-size="4.9" fill="#222" stroke="#222" stroke-width="0.07">LS513</text>
<text x="34.60" y="281.75" font-size="4.9" fill="#222" stroke="#222" stroke-width="0.07">HT115</text>
<text x="44.30" y="285.95" font-size="4.9" fill="#222" stroke="#222" stroke-width="0.07">HCC4006</text>
<text x="42.20" y="295.95" font-size="4.9" fill="#222" stroke="#222" stroke-width="0.07">RMG−I</text>
<text x="36.20" y="326.75" font-size="4.9" fill="#222" stroke="#222" stroke-width="0.07">SW−13</text>
<text x="51.00" y="336.15" font-size="4.9" fill="#222" stroke="#222" stroke-width="0.07">MDA−MB−453</text>
<text x="37.20" y="355.95" font-size="4.9" fill="#222" stroke="#222" stroke-width="0.07">MDA−MB−175</text>
<text x="37.40" y="366.55" font-size="4.9" fill="#222" stroke="#222" stroke-width="0.07">CHL−1</text>
<text x="80.40" y="353.15" font-size="4.9" fill="#222" stroke="#222" stroke-width="0.07">SK−GT−2</text>
<text x="98.60" y="368.35" font-size="4.9" fill="#222" stroke="#222" stroke-width="0.07">BT−474</text>
<text x="117.80" y="360.35" font-size="4.9" fill="#222" stroke="#222" stroke-width="0.07">SK−BR−3</text>
<text x="145.60" y="354.35" font-size="4.9" fill="#222" stroke="#222" stroke-width="0.07">NCI−H2170</text>
<text x="172.20" y="351.55" font-size="4.9" fill="#222" stroke="#222" stroke-width="0.07">OE19</text>
<text x="168.20" y="362.75" font-size="4.9" fill="#222" stroke="#222" stroke-width="0.07">AU565</text>
<text x="189.60" y="355.55" font-size="4.9" fill="#222" stroke="#222" stroke-width="0.07">HCC1419</text>
<text x="177.00" y="338.75" font-size="4.9" fill="#222" stroke="#222" stroke-width="0.07">HCC1954</text>
<text x="209.00" y="327.75" font-size="4.9" fill="#222" stroke="#222" stroke-width="0.07">SUM190PT</text>
<text x="213.80" y="365.35" font-size="4.9" fill="#222" stroke="#222" stroke-width="0.07">NCI−N87</text>
<text x="1.20" y="432.60" font-size="10.5" font-weight="bold" fill="#000" stroke="#000" stroke-width="0.15">D</text>
<defs><filter id="bl" x="-10%" y="-50%" width="120%" height="200%"><feGaussianBlur stdDeviation="0.6"/></filter></defs>
<text x="8.10" y="463.80" font-size="6.9" fill="#111" stroke="#111" stroke-width="0.10" transform="rotate(-44 8.10 463.80)">NCI-N87</text>
<text x="17.72" y="463.80" font-size="6.9" fill="#111" stroke="#111" stroke-width="0.10" transform="rotate(-44 17.72 463.80)">SK-GT-2</text>
<text x="27.34" y="463.80" font-size="6.9" fill="#111" stroke="#111" stroke-width="0.10" transform="rotate(-44 27.34 463.80)">OE19</text>
<text x="36.96" y="463.80" font-size="6.9" fill="#111" stroke="#111" stroke-width="0.10" transform="rotate(-44 36.96 463.80)">NCI-H2170</text>
<text x="46.58" y="463.80" font-size="6.9" fill="#111" stroke="#111" stroke-width="0.10" transform="rotate(-44 46.58 463.80)">CHL-1</text>
<text x="56.20" y="463.80" font-size="6.9" fill="#111" stroke="#111" stroke-width="0.10" transform="rotate(-44 56.20 463.80)">BT-474</text>
<text x="65.82" y="463.80" font-size="6.9" fill="#111" stroke="#111" stroke-width="0.10" transform="rotate(-44 65.82 463.80)">MDA-MB-175-VII</text>
<text x="75.44" y="463.80" font-size="6.9" fill="#111" stroke="#111" stroke-width="0.10" transform="rotate(-44 75.44 463.80)">AU565</text>
<text x="85.06" y="463.80" font-size="6.9" fill="#111" stroke="#111" stroke-width="0.10" transform="rotate(-44 85.06 463.80)">HCC1419</text>
<text x="94.68" y="463.80" font-size="6.9" fill="#111" stroke="#111" stroke-width="0.10" transform="rotate(-44 94.68 463.80)">SK-BR-3</text>
<text x="104.30" y="463.80" font-size="6.9" fill="#111" stroke="#111" stroke-width="0.10" transform="rotate(-44 104.30 463.80)">MDA-MB-453</text>
<text x="113.92" y="463.80" font-size="6.9" fill="#111" stroke="#111" stroke-width="0.10" transform="rotate(-44 113.92 463.80)">SUM190PT</text>
<text x="123.54" y="463.80" font-size="6.9" fill="#111" stroke="#111" stroke-width="0.10" transform="rotate(-44 123.54 463.80)">HCC1954</text>
<text x="133.16" y="463.80" font-size="6.9" fill="#111" stroke="#111" stroke-width="0.10" transform="rotate(-44 133.16 463.80)">SW-13</text>
<text x="145.60" y="463.80" font-size="6.9" fill="#111" stroke="#111" stroke-width="0.10" transform="rotate(-44 145.60 463.80)">RMG-I</text>
<text x="155.75" y="463.80" font-size="6.9" fill="#111" stroke="#111" stroke-width="0.10" transform="rotate(-44 155.75 463.80)">HCC4006</text>
<text x="165.90" y="463.80" font-size="6.9" fill="#111" stroke="#111" stroke-width="0.10" transform="rotate(-44 165.90 463.80)">HuH-7</text>
<text x="176.05" y="463.80" font-size="6.9" fill="#111" stroke="#111" stroke-width="0.10" transform="rotate(-44 176.05 463.80)">LS513</text>
<text x="186.20" y="463.80" font-size="6.9" fill="#111" stroke="#111" stroke-width="0.10" transform="rotate(-44 186.20 463.80)">RT-112</text>
<text x="196.35" y="463.80" font-size="6.9" fill="#111" stroke="#111" stroke-width="0.10" transform="rotate(-44 196.35 463.80)">HT115</text>
<text x="206.50" y="463.80" font-size="6.9" fill="#111" stroke="#111" stroke-width="0.10" transform="rotate(-44 206.50 463.80)">CFPAC-1</text>
<text x="216.65" y="463.80" font-size="6.9" fill="#111" stroke="#111" stroke-width="0.10" transform="rotate(-44 216.65 463.80)">MFE-280</text>
<text x="226.80" y="463.80" font-size="6.9" fill="#111" stroke="#111" stroke-width="0.10" transform="rotate(-44 226.80 463.80)">SNU-216</text>
<rect x="1.90" y="467.70" width="137.40" height="11.70" fill="#f2f2f2"/>
<rect x="140.80" y="467.70" width="90.90" height="11.70" fill="#f6f6f6"/>
<line x1="12.21" y1="471.21" x2="12.21" y2="475.89" stroke="#9a9a9a" stroke-width="0.35" opacity="0.55"/>
<line x1="21.83" y1="471.21" x2="21.83" y2="475.89" stroke="#9a9a9a" stroke-width="0.35" opacity="0.55"/>
<line x1="31.45" y1="471.21" x2="31.45" y2="475.89" stroke="#9a9a9a" stroke-width="0.35" opacity="0.55"/>
<line x1="41.07" y1="471.21" x2="41.07" y2="475.89" stroke="#9a9a9a" stroke-width="0.35" opacity="0.55"/>
<line x1="50.69" y1="471.21" x2="50.69" y2="475.89" stroke="#9a9a9a" stroke-width="0.35" opacity="0.55"/>
<line x1="60.31" y1="471.21" x2="60.31" y2="475.89" stroke="#9a9a9a" stroke-width="0.35" opacity="0.55"/>
<line x1="69.93" y1="471.21" x2="69.93" y2="475.89" stroke="#9a9a9a" stroke-width="0.35" opacity="0.55"/>
<line x1="79.55" y1="471.21" x2="79.55" y2="475.89" stroke="#9a9a9a" stroke-width="0.35" opacity="0.55"/>
<line x1="89.17" y1="471.21" x2="89.17" y2="475.89" stroke="#9a9a9a" stroke-width="0.35" opacity="0.55"/>
<line x1="98.79" y1="471.21" x2="98.79" y2="475.89" stroke="#9a9a9a" stroke-width="0.35" opacity="0.55"/>
<line x1="108.41" y1="471.21" x2="108.41" y2="475.89" stroke="#9a9a9a" stroke-width="0.35" opacity="0.55"/>
<line x1="118.03" y1="471.21" x2="118.03" y2="475.89" stroke="#9a9a9a" stroke-width="0.35" opacity="0.55"/>
<line x1="127.65" y1="471.21" x2="127.65" y2="475.89" stroke="#9a9a9a" stroke-width="0.35" opacity="0.55"/>
<line x1="149.98" y1="471.21" x2="149.98" y2="475.89" stroke="#9a9a9a" stroke-width="0.35" opacity="0.55"/>
<line x1="160.13" y1="471.21" x2="160.13" y2="475.89" stroke="#9a9a9a" stroke-width="0.35" opacity="0.55"/>
<line x1="170.28" y1="471.21" x2="170.28" y2="475.89" stroke="#9a9a9a" stroke-width="0.35" opacity="0.55"/>
<line x1="180.43" y1="471.21" x2="180.43" y2="475.89" stroke="#9a9a9a" stroke-width="0.35" opacity="0.55"/>
<line x1="190.58" y1="471.21" x2="190.58" y2="475.89" stroke="#9a9a9a" stroke-width="0.35" opacity="0.55"/>
<line x1="200.73" y1="471.21" x2="200.73" y2="475.89" stroke="#9a9a9a" stroke-width="0.35" opacity="0.55"/>
<line x1="210.88" y1="471.21" x2="210.88" y2="475.89" stroke="#9a9a9a" stroke-width="0.35" opacity="0.55"/>
<line x1="221.03" y1="471.21" x2="221.03" y2="475.89" stroke="#9a9a9a" stroke-width="0.35" opacity="0.55"/>
<g filter="url(#bl)">
<rect x="3.07" y="471.20" width="8.66" height="3.80" rx="1.0" fill="#101010" opacity="1.00"/>
<rect x="12.69" y="470.98" width="8.66" height="3.80" rx="1.0" fill="#101010" opacity="1.00"/>
<rect x="22.31" y="471.60" width="8.66" height="3.80" rx="1.0" fill="#101010" opacity="1.00"/>
<rect x="31.93" y="471.96" width="8.66" height="3.80" rx="1.0" fill="#101010" opacity="1.00"/>
<rect x="51.17" y="471.54" width="8.66" height="3.80" rx="1.0" fill="#101010" opacity="1.00"/>
<rect x="61.75" y="472.64" width="6.73" height="1.78" rx="1.0" fill="#101010" opacity="0.23"/>
<rect x="70.41" y="470.97" width="8.66" height="3.80" rx="1.0" fill="#101010" opacity="1.00"/>
<rect x="80.03" y="471.63" width="8.66" height="3.80" rx="1.0" fill="#101010" opacity="1.00"/>
<rect x="89.65" y="472.38" width="8.66" height="3.57" rx="1.0" fill="#101010" opacity="0.93"/>
<rect x="99.27" y="472.60" width="8.66" height="2.88" rx="1.0" fill="#101010" opacity="0.66"/>
<rect x="108.89" y="471.97" width="8.66" height="3.80" rx="1.0" fill="#101010" opacity="1.00"/>
<rect x="118.51" y="471.10" width="8.66" height="3.80" rx="1.0" fill="#101010" opacity="1.00"/>
<rect x="129.09" y="473.21" width="6.73" height="1.78" rx="1.0" fill="#101010" opacity="0.23"/>
<rect x="141.35" y="473.01" width="7.10" height="2.08" rx="1.0" fill="#101010" opacity="0.34"/>
<rect x="151.50" y="472.22" width="7.10" height="1.73" rx="1.0" fill="#101010" opacity="0.21"/>
<rect x="161.65" y="472.87" width="7.10" height="1.73" rx="1.0" fill="#101010" opacity="0.21"/>
<rect x="171.80" y="471.88" width="7.10" height="2.01" rx="1.0" fill="#101010" opacity="0.32"/>
<rect x="181.95" y="472.15" width="7.10" height="1.73" rx="1.0" fill="#101010" opacity="0.21"/>
<rect x="192.10" y="472.31" width="7.10" height="1.96" rx="1.0" fill="#101010" opacity="0.30"/>
<rect x="212.40" y="472.03" width="7.10" height="2.08" rx="1.0" fill="#101010" opacity="0.34"/>
<rect x="221.53" y="472.76" width="9.13" height="2.30" rx="1.0" fill="#101010" opacity="0.43"/>
</g>
<rect x="1.90" y="467.70" width="137.40" height="11.70" fill="none" stroke="#707070" stroke-width="0.9"/>
<rect x="140.80" y="467.70" width="90.90" height="11.70" fill="none" stroke="#707070" stroke-width="0.9"/>
<text x="234.00" y="473.85" font-size="6.4" fill="#111" stroke="#111" stroke-width="0.09">HER2</text>
<rect x="1.90" y="480.10" width="137.40" height="10.20" fill="#c6c6c6"/>
<rect x="140.80" y="480.10" width="90.90" height="10.20" fill="#c2c2c2"/>
<rect x="117.50" y="480.10" width="21.80" height="10.20" fill="#ececec"/>
<line x1="12.21" y1="483.16" x2="12.21" y2="487.24" stroke="#8a8a8a" stroke-width="0.35" opacity="0.55"/>
<line x1="21.83" y1="483.16" x2="21.83" y2="487.24" stroke="#8a8a8a" stroke-width="0.35" opacity="0.55"/>
<line x1="31.45" y1="483.16" x2="31.45" y2="487.24" stroke="#8a8a8a" stroke-width="0.35" opacity="0.55"/>
<line x1="41.07" y1="483.16" x2="41.07" y2="487.24" stroke="#8a8a8a" stroke-width="0.35" opacity="0.55"/>
<line x1="50.69" y1="483.16" x2="50.69" y2="487.24" stroke="#8a8a8a" stroke-width="0.35" opacity="0.55"/>
<line x1="60.31" y1="483.16" x2="60.31" y2="487.24" stroke="#8a8a8a" stroke-width="0.35" opacity="0.55"/>
<line x1="69.93" y1="483.16" x2="69.93" y2="487.24" stroke="#8a8a8a" stroke-width="0.35" opacity="0.55"/>
<line x1="79.55" y1="483.16" x2="79.55" y2="487.24" stroke="#8a8a8a" stroke-width="0.35" opacity="0.55"/>
<line x1="89.17" y1="483.16" x2="89.17" y2="487.24" stroke="#8a8a8a" stroke-width="0.35" opacity="0.55"/>
<line x1="98.79" y1="483.16" x2="98.79" y2="487.24" stroke="#8a8a8a" stroke-width="0.35" opacity="0.55"/>
<line x1="108.41" y1="483.16" x2="108.41" y2="487.24" stroke="#8a8a8a" stroke-width="0.35" opacity="0.55"/>
<line x1="118.03" y1="483.16" x2="118.03" y2="487.24" stroke="#8a8a8a" stroke-width="0.35" opacity="0.55"/>
<line x1="127.65" y1="483.16" x2="127.65" y2="487.24" stroke="#8a8a8a" stroke-width="0.35" opacity="0.55"/>
<line x1="149.98" y1="483.16" x2="149.98" y2="487.24" stroke="#8a8a8a" stroke-width="0.35" opacity="0.55"/>
<line x1="160.13" y1="483.16" x2="160.13" y2="487.24" stroke="#8a8a8a" stroke-width="0.35" opacity="0.55"/>
<line x1="170.28" y1="483.16" x2="170.28" y2="487.24" stroke="#8a8a8a" stroke-width="0.35" opacity="0.55"/>
<line x1="180.43" y1="483.16" x2="180.43" y2="487.24" stroke="#8a8a8a" stroke-width="0.35" opacity="0.55"/>
<line x1="190.58" y1="483.16" x2="190.58" y2="487.24" stroke="#8a8a8a" stroke-width="0.35" opacity="0.55"/>
<line x1="200.73" y1="483.16" x2="200.73" y2="487.24" stroke="#8a8a8a" stroke-width="0.35" opacity="0.55"/>
<line x1="210.88" y1="483.16" x2="210.88" y2="487.24" stroke="#8a8a8a" stroke-width="0.35" opacity="0.55"/>
<line x1="221.03" y1="483.16" x2="221.03" y2="487.24" stroke="#8a8a8a" stroke-width="0.35" opacity="0.55"/>
<g filter="url(#bl)">
<rect x="3.07" y="484.44" width="8.66" height="2.42" rx="1.0" fill="#101010" opacity="0.48"/>
<rect x="13.65" y="484.12" width="6.73" height="1.73" rx="1.0" fill="#101010" opacity="0.21"/>
<rect x="22.31" y="483.74" width="8.66" height="2.42" rx="1.0" fill="#101010" opacity="0.48"/>
<rect x="31.93" y="483.45" width="8.66" height="2.42" rx="1.0" fill="#101010" opacity="0.48"/>
<rect x="52.13" y="483.70" width="6.73" height="1.84" rx="1.0" fill="#101010" opacity="0.26"/>
<rect x="60.79" y="484.40" width="8.66" height="2.19" rx="1.0" fill="#101010" opacity="0.39"/>
<rect x="71.37" y="484.47" width="6.73" height="1.73" rx="1.0" fill="#101010" opacity="0.21"/>
<rect x="80.99" y="483.60" width="6.73" height="1.96" rx="1.0" fill="#101010" opacity="0.30"/>
<rect x="90.61" y="484.31" width="6.73" height="1.73" rx="1.0" fill="#101010" opacity="0.21"/>
<rect x="108.89" y="483.91" width="8.66" height="2.30" rx="1.0" fill="#101010" opacity="0.43"/>
<rect x="119.47" y="484.85" width="6.73" height="1.68" rx="1.0" fill="#101010" opacity="0.19"/>
<rect x="150.48" y="484.18" width="9.13" height="2.65" rx="1.0" fill="#101010" opacity="0.57"/>
<rect x="161.65" y="484.42" width="7.10" height="1.84" rx="1.0" fill="#101010" opacity="0.26"/>
<rect x="170.78" y="483.55" width="9.13" height="3.46" rx="1.0" fill="#101010" opacity="0.89"/>
<rect x="181.95" y="484.96" width="7.10" height="1.73" rx="1.0" fill="#101010" opacity="0.21"/>
<rect x="191.08" y="484.67" width="9.13" height="2.42" rx="1.0" fill="#101010" opacity="0.48"/>
<rect x="202.25" y="484.13" width="7.10" height="1.68" rx="1.0" fill="#101010" opacity="0.19"/>
</g>
<rect x="1.90" y="480.10" width="137.40" height="10.20" fill="none" stroke="#707070" stroke-width="0.9"/>
<rect x="140.80" y="480.10" width="90.90" height="10.20" fill="none" stroke="#707070" stroke-width="0.9"/>
<text x="234.00" y="485.58" font-size="6.4" fill="#111" stroke="#111" stroke-width="0.09">pHER2 (Y1196)</text>
<rect x="1.90" y="491.00" width="137.40" height="10.80" fill="#989898"/>
<rect x="140.80" y="491.00" width="90.90" height="10.80" fill="#979797"/>
<line x1="12.21" y1="494.24" x2="12.21" y2="498.56" stroke="#8a8a8a" stroke-width="0.35" opacity="0.55"/>
<line x1="21.83" y1="494.24" x2="21.83" y2="498.56" stroke="#8a8a8a" stroke-width="0.35" opacity="0.55"/>
<line x1="31.45" y1="494.24" x2="31.45" y2="498.56" stroke="#8a8a8a" stroke-width="0.35" opacity="0.55"/>
<line x1="41.07" y1="494.24" x2="41.07" y2="498.56" stroke="#8a8a8a" stroke-width="0.35" opacity="0.55"/>
<line x1="50.69" y1="494.24" x2="50.69" y2="498.56" stroke="#8a8a8a" stroke-width="0.35" opacity="0.55"/>
<line x1="60.31" y1="494.24" x2="60.31" y2="498.56" stroke="#8a8a8a" stroke-width="0.35" opacity="0.55"/>
<line x1="69.93" y1="494.24" x2="69.93" y2="498.56" stroke="#8a8a8a" stroke-width="0.35" opacity="0.55"/>
<line x1="79.55" y1="494.24" x2="79.55" y2="498.56" stroke="#8a8a8a" stroke-width="0.35" opacity="0.55"/>
<line x1="89.17" y1="494.24" x2="89.17" y2="498.56" stroke="#8a8a8a" stroke-width="0.35" opacity="0.55"/>
<line x1="98.79" y1="494.24" x2="98.79" y2="498.56" stroke="#8a8a8a" stroke-width="0.35" opacity="0.55"/>
<line x1="108.41" y1="494.24" x2="108.41" y2="498.56" stroke="#8a8a8a" stroke-width="0.35" opacity="0.55"/>
<line x1="118.03" y1="494.24" x2="118.03" y2="498.56" stroke="#8a8a8a" stroke-width="0.35" opacity="0.55"/>
<line x1="127.65" y1="494.24" x2="127.65" y2="498.56" stroke="#8a8a8a" stroke-width="0.35" opacity="0.55"/>
<line x1="149.98" y1="494.24" x2="149.98" y2="498.56" stroke="#8a8a8a" stroke-width="0.35" opacity="0.55"/>
<line x1="160.13" y1="494.24" x2="160.13" y2="498.56" stroke="#8a8a8a" stroke-width="0.35" opacity="0.55"/>
<line x1="170.28" y1="494.24" x2="170.28" y2="498.56" stroke="#8a8a8a" stroke-width="0.35" opacity="0.55"/>
<line x1="180.43" y1="494.24" x2="180.43" y2="498.56" stroke="#8a8a8a" stroke-width="0.35" opacity="0.55"/>
<line x1="190.58" y1="494.24" x2="190.58" y2="498.56" stroke="#8a8a8a" stroke-width="0.35" opacity="0.55"/>
<line x1="200.73" y1="494.24" x2="200.73" y2="498.56" stroke="#8a8a8a" stroke-width="0.35" opacity="0.55"/>
<line x1="210.88" y1="494.24" x2="210.88" y2="498.56" stroke="#8a8a8a" stroke-width="0.35" opacity="0.55"/>
<line x1="221.03" y1="494.24" x2="221.03" y2="498.56" stroke="#8a8a8a" stroke-width="0.35" opacity="0.55"/>
<g filter="url(#bl)">
<rect x="3.07" y="494.60" width="8.66" height="2.88" rx="1.0" fill="#101010" opacity="0.66"/>
<rect x="12.69" y="495.61" width="8.66" height="2.42" rx="1.0" fill="#101010" opacity="0.48"/>
<rect x="22.31" y="494.35" width="8.66" height="2.88" rx="1.0" fill="#101010" opacity="0.66"/>
<rect x="31.93" y="494.77" width="8.66" height="2.88" rx="1.0" fill="#101010" opacity="0.66"/>
<rect x="51.17" y="494.47" width="8.66" height="2.65" rx="1.0" fill="#101010" opacity="0.57"/>
<rect x="70.41" y="494.88" width="8.66" height="2.54" rx="1.0" fill="#101010" opacity="0.53"/>
<rect x="80.03" y="494.59" width="8.66" height="2.42" rx="1.0" fill="#101010" opacity="0.48"/>
<rect x="89.65" y="495.01" width="8.66" height="2.19" rx="1.0" fill="#101010" opacity="0.39"/>
<rect x="100.23" y="495.94" width="6.73" height="1.73" rx="1.0" fill="#101010" opacity="0.21"/>
<rect x="108.89" y="495.76" width="8.66" height="2.42" rx="1.0" fill="#101010" opacity="0.48"/>
<rect x="118.51" y="495.48" width="8.66" height="2.65" rx="1.0" fill="#101010" opacity="0.57"/>
</g>
<rect x="1.90" y="491.00" width="137.40" height="10.80" fill="none" stroke="#707070" stroke-width="0.9"/>
<rect x="140.80" y="491.00" width="90.90" height="10.80" fill="none" stroke="#707070" stroke-width="0.9"/>
<text x="234.00" y="496.85" font-size="6.4" fill="#111" stroke="#111" stroke-width="0.09">pHER2 (Y1248)</text>
<rect x="1.90" y="504.20" width="137.40" height="10.90" fill="#f0f0f0"/>
<rect x="140.80" y="504.20" width="90.90" height="10.90" fill="#f2f2f2"/>
<line x1="12.21" y1="507.47" x2="12.21" y2="511.83" stroke="#9a9a9a" stroke-width="0.35" opacity="0.55"/>
<line x1="21.83" y1="507.47" x2="21.83" y2="511.83" stroke="#9a9a9a" stroke-width="0.35" opacity="0.55"/>
<line x1="31.45" y1="507.47" x2="31.45" y2="511.83" stroke="#9a9a9a" stroke-width="0.35" opacity="0.55"/>
<line x1="41.07" y1="507.47" x2="41.07" y2="511.83" stroke="#9a9a9a" stroke-width="0.35" opacity="0.55"/>
<line x1="50.69" y1="507.47" x2="50.69" y2="511.83" stroke="#9a9a9a" stroke-width="0.35" opacity="0.55"/>
<line x1="60.31" y1="507.47" x2="60.31" y2="511.83" stroke="#9a9a9a" stroke-width="0.35" opacity="0.55"/>
<line x1="69.93" y1="507.47" x2="69.93" y2="511.83" stroke="#9a9a9a" stroke-width="0.35" opacity="0.55"/>
<line x1="79.55" y1="507.47" x2="79.55" y2="511.83" stroke="#9a9a9a" stroke-width="0.35" opacity="0.55"/>
<line x1="89.17" y1="507.47" x2="89.17" y2="511.83" stroke="#9a9a9a" stroke-width="0.35" opacity="0.55"/>
<line x1="98.79" y1="507.47" x2="98.79" y2="511.83" stroke="#9a9a9a" stroke-width="0.35" opacity="0.55"/>
<line x1="108.41" y1="507.47" x2="108.41" y2="511.83" stroke="#9a9a9a" stroke-width="0.35" opacity="0.55"/>
<line x1="118.03" y1="507.47" x2="118.03" y2="511.83" stroke="#9a9a9a" stroke-width="0.35" opacity="0.55"/>
<line x1="127.65" y1="507.47" x2="127.65" y2="511.83" stroke="#9a9a9a" stroke-width="0.35" opacity="0.55"/>
<line x1="149.98" y1="507.47" x2="149.98" y2="511.83" stroke="#9a9a9a" stroke-width="0.35" opacity="0.55"/>
<line x1="160.13" y1="507.47" x2="160.13" y2="511.83" stroke="#9a9a9a" stroke-width="0.35" opacity="0.55"/>
<line x1="170.28" y1="507.47" x2="170.28" y2="511.83" stroke="#9a9a9a" stroke-width="0.35" opacity="0.55"/>
<line x1="180.43" y1="507.47" x2="180.43" y2="511.83" stroke="#9a9a9a" stroke-width="0.35" opacity="0.55"/>
<line x1="190.58" y1="507.47" x2="190.58" y2="511.83" stroke="#9a9a9a" stroke-width="0.35" opacity="0.55"/>
<line x1="200.73" y1="507.47" x2="200.73" y2="511.83" stroke="#9a9a9a" stroke-width="0.35" opacity="0.55"/>
<line x1="210.88" y1="507.47" x2="210.88" y2="511.83" stroke="#9a9a9a" stroke-width="0.35" opacity="0.55"/>
<line x1="221.03" y1="507.47" x2="221.03" y2="511.83" stroke="#9a9a9a" stroke-width="0.35" opacity="0.55"/>
<g filter="url(#bl)">
<rect x="4.03" y="508.87" width="6.73" height="1.73" rx="1.0" fill="#101010" opacity="0.21"/>
<rect x="22.31" y="508.26" width="8.66" height="3.11" rx="1.0" fill="#101010" opacity="0.75"/>
<rect x="22.31" y="511.51" width="8.66" height="1.3" rx="0.5" fill="#222" opacity="0.38"/>
<rect x="32.89" y="508.48" width="6.73" height="1.96" rx="1.0" fill="#101010" opacity="0.30"/>
<rect x="41.55" y="507.40" width="8.66" height="3.57" rx="1.0" fill="#101010" opacity="0.93"/>
<rect x="41.55" y="510.89" width="8.66" height="1.3" rx="0.5" fill="#222" opacity="0.47"/>
<rect x="51.17" y="508.12" width="8.66" height="2.88" rx="1.0" fill="#101010" opacity="0.66"/>
<rect x="51.17" y="511.26" width="8.66" height="1.3" rx="0.5" fill="#222" opacity="0.33"/>
<rect x="60.79" y="508.42" width="8.66" height="3.11" rx="1.0" fill="#101010" opacity="0.75"/>
<rect x="60.79" y="511.68" width="8.66" height="1.3" rx="0.5" fill="#222" opacity="0.38"/>
<rect x="70.41" y="507.25" width="8.66" height="3.57" rx="1.0" fill="#101010" opacity="0.93"/>
<rect x="70.41" y="510.74" width="8.66" height="1.3" rx="0.5" fill="#222" opacity="0.47"/>
<rect x="80.03" y="507.14" width="8.66" height="3.68" rx="1.0" fill="#101010" opacity="0.97"/>
<rect x="80.03" y="510.68" width="8.66" height="1.3" rx="0.5" fill="#222" opacity="0.49"/>
<rect x="89.65" y="508.93" width="8.66" height="2.19" rx="1.0" fill="#101010" opacity="0.39"/>
<rect x="99.27" y="507.70" width="8.66" height="3.34" rx="1.0" fill="#101010" opacity="0.84"/>
<rect x="99.27" y="511.07" width="8.66" height="1.3" rx="0.5" fill="#222" opacity="0.42"/>
<rect x="108.89" y="508.61" width="8.66" height="2.65" rx="1.0" fill="#101010" opacity="0.57"/>
<rect x="108.89" y="511.63" width="8.66" height="1.3" rx="0.5" fill="#222" opacity="0.29"/>
<rect x="119.47" y="509.00" width="6.73" height="1.96" rx="1.0" fill="#101010" opacity="0.30"/>
<rect x="140.33" y="508.36" width="9.13" height="3.80" rx="1.0" fill="#101010" opacity="1.00"/>
<rect x="140.33" y="511.96" width="9.13" height="1.3" rx="0.5" fill="#222" opacity="0.50"/>
<rect x="150.48" y="508.19" width="9.13" height="2.65" rx="1.0" fill="#101010" opacity="0.57"/>
<rect x="150.48" y="511.21" width="9.13" height="1.3" rx="0.5" fill="#222" opacity="0.29"/>
<rect x="160.63" y="508.01" width="9.13" height="2.88" rx="1.0" fill="#101010" opacity="0.66"/>
<rect x="160.63" y="511.15" width="9.13" height="1.3" rx="0.5" fill="#222" opacity="0.33"/>
<rect x="170.78" y="508.24" width="9.13" height="3.68" rx="1.0" fill="#101010" opacity="0.97"/>
<rect x="170.78" y="511.78" width="9.13" height="1.3" rx="0.5" fill="#222" opacity="0.49"/>
<rect x="180.93" y="508.93" width="9.13" height="2.19" rx="1.0" fill="#101010" opacity="0.39"/>
<rect x="191.08" y="508.02" width="9.13" height="3.68" rx="1.0" fill="#101010" opacity="0.97"/>
<rect x="191.08" y="511.56" width="9.13" height="1.3" rx="0.5" fill="#222" opacity="0.49"/>
<rect x="211.38" y="508.65" width="9.13" height="2.88" rx="1.0" fill="#101010" opacity="0.66"/>
<rect x="211.38" y="511.79" width="9.13" height="1.3" rx="0.5" fill="#222" opacity="0.33"/>
<rect x="221.53" y="508.70" width="9.13" height="2.30" rx="1.0" fill="#101010" opacity="0.43"/>
</g>
<rect x="1.90" y="504.20" width="137.40" height="10.90" fill="none" stroke="#707070" stroke-width="0.9"/>
<rect x="140.80" y="504.20" width="90.90" height="10.90" fill="none" stroke="#707070" stroke-width="0.9"/>
<text x="234.00" y="510.18" font-size="6.4" fill="#111" stroke="#111" stroke-width="0.09">HER3</text>
<rect x="1.90" y="516.60" width="137.40" height="10.80" fill="#f1f1f1"/>
<rect x="140.80" y="516.60" width="90.90" height="10.80" fill="#f3f3f3"/>
<line x1="12.21" y1="519.84" x2="12.21" y2="524.16" stroke="#9a9a9a" stroke-width="0.35" opacity="0.55"/>
<line x1="21.83" y1="519.84" x2="21.83" y2="524.16" stroke="#9a9a9a" stroke-width="0.35" opacity="0.55"/>
<line x1="31.45" y1="519.84" x2="31.45" y2="524.16" stroke="#9a9a9a" stroke-width="0.35" opacity="0.55"/>
<line x1="41.07" y1="519.84" x2="41.07" y2="524.16" stroke="#9a9a9a" stroke-width="0.35" opacity="0.55"/>
<line x1="50.69" y1="519.84" x2="50.69" y2="524.16" stroke="#9a9a9a" stroke-width="0.35" opacity="0.55"/>
<line x1="60.31" y1="519.84" x2="60.31" y2="524.16" stroke="#9a9a9a" stroke-width="0.35" opacity="0.55"/>
<line x1="69.93" y1="519.84" x2="69.93" y2="524.16" stroke="#9a9a9a" stroke-width="0.35" opacity="0.55"/>
<line x1="79.55" y1="519.84" x2="79.55" y2="524.16" stroke="#9a9a9a" stroke-width="0.35" opacity="0.55"/>
<line x1="89.17" y1="519.84" x2="89.17" y2="524.16" stroke="#9a9a9a" stroke-width="0.35" opacity="0.55"/>
<line x1="98.79" y1="519.84" x2="98.79" y2="524.16" stroke="#9a9a9a" stroke-width="0.35" opacity="0.55"/>
<line x1="108.41" y1="519.84" x2="108.41" y2="524.16" stroke="#9a9a9a" stroke-width="0.35" opacity="0.55"/>
<line x1="118.03" y1="519.84" x2="118.03" y2="524.16" stroke="#9a9a9a" stroke-width="0.35" opacity="0.55"/>
<line x1="127.65" y1="519.84" x2="127.65" y2="524.16" stroke="#9a9a9a" stroke-width="0.35" opacity="0.55"/>
<line x1="149.98" y1="519.84" x2="149.98" y2="524.16" stroke="#9a9a9a" stroke-width="0.35" opacity="0.55"/>
<line x1="160.13" y1="519.84" x2="160.13" y2="524.16" stroke="#9a9a9a" stroke-width="0.35" opacity="0.55"/>
<line x1="170.28" y1="519.84" x2="170.28" y2="524.16" stroke="#9a9a9a" stroke-width="0.35" opacity="0.55"/>
<line x1="180.43" y1="519.84" x2="180.43" y2="524.16" stroke="#9a9a9a" stroke-width="0.35" opacity="0.55"/>
<line x1="190.58" y1="519.84" x2="190.58" y2="524.16" stroke="#9a9a9a" stroke-width="0.35" opacity="0.55"/>
<line x1="200.73" y1="519.84" x2="200.73" y2="524.16" stroke="#9a9a9a" stroke-width="0.35" opacity="0.55"/>
<line x1="210.88" y1="519.84" x2="210.88" y2="524.16" stroke="#9a9a9a" stroke-width="0.35" opacity="0.55"/>
<line x1="221.03" y1="519.84" x2="221.03" y2="524.16" stroke="#9a9a9a" stroke-width="0.35" opacity="0.55"/>
<g filter="url(#bl)">
<rect x="32.89" y="521.78" width="6.73" height="1.73" rx="1.0" fill="#101010" opacity="0.21"/>
<rect x="51.17" y="520.21" width="8.66" height="3.11" rx="1.0" fill="#101010" opacity="0.75"/>
<rect x="80.03" y="520.78" width="8.66" height="3.11" rx="1.0" fill="#101010" opacity="0.75"/>
<rect x="108.89" y="521.07" width="8.66" height="3.11" rx="1.0" fill="#101010" opacity="0.75"/>
<rect x="119.47" y="520.90" width="6.73" height="1.73" rx="1.0" fill="#101010" opacity="0.21"/>
<rect x="129.25" y="516.71" width="9.62" height="10.58" rx="2.5" fill="#101010" opacity="1.00"/>
<rect x="161.65" y="520.83" width="7.10" height="1.96" rx="1.0" fill="#101010" opacity="0.30"/>
<rect x="211.38" y="520.62" width="9.13" height="2.65" rx="1.0" fill="#101010" opacity="0.57"/>
</g>
<rect x="1.90" y="516.60" width="137.40" height="10.80" fill="none" stroke="#707070" stroke-width="0.9"/>
<rect x="140.80" y="516.60" width="90.90" height="10.80" fill="none" stroke="#707070" stroke-width="0.9"/>
<text x="234.00" y="522.61" font-size="6.4" fill="#111" stroke="#111" stroke-width="0.09">HER4</text>
<rect x="1.90" y="528.90" width="137.40" height="10.80" fill="#f0f0f0"/>
<rect x="140.80" y="528.90" width="90.90" height="10.80" fill="#f3f3f3"/>
<line x1="12.21" y1="532.14" x2="12.21" y2="536.46" stroke="#9a9a9a" stroke-width="0.35" opacity="0.55"/>
<line x1="21.83" y1="532.14" x2="21.83" y2="536.46" stroke="#9a9a9a" stroke-width="0.35" opacity="0.55"/>
<line x1="31.45" y1="532.14" x2="31.45" y2="536.46" stroke="#9a9a9a" stroke-width="0.35" opacity="0.55"/>
<line x1="41.07" y1="532.14" x2="41.07" y2="536.46" stroke="#9a9a9a" stroke-width="0.35" opacity="0.55"/>
<line x1="50.69" y1="532.14" x2="50.69" y2="536.46" stroke="#9a9a9a" stroke-width="0.35" opacity="0.55"/>
<line x1="60.31" y1="532.14" x2="60.31" y2="536.46" stroke="#9a9a9a" stroke-width="0.35" opacity="0.55"/>
<line x1="69.93" y1="532.14" x2="69.93" y2="536.46" stroke="#9a9a9a" stroke-width="0.35" opacity="0.55"/>
<line x1="79.55" y1="532.14" x2="79.55" y2="536.46" stroke="#9a9a9a" stroke-width="0.35" opacity="0.55"/>
<line x1="89.17" y1="532.14" x2="89.17" y2="536.46" stroke="#9a9a9a" stroke-width="0.35" opacity="0.55"/>
<line x1="98.79" y1="532.14" x2="98.79" y2="536.46" stroke="#9a9a9a" stroke-width="0.35" opacity="0.55"/>
<line x1="108.41" y1="532.14" x2="108.41" y2="536.46" stroke="#9a9a9a" stroke-width="0.35" opacity="0.55"/>
<line x1="118.03" y1="532.14" x2="118.03" y2="536.46" stroke="#9a9a9a" stroke-width="0.35" opacity="0.55"/>
<line x1="127.65" y1="532.14" x2="127.65" y2="536.46" stroke="#9a9a9a" stroke-width="0.35" opacity="0.55"/>
<line x1="149.98" y1="532.14" x2="149.98" y2="536.46" stroke="#9a9a9a" stroke-width="0.35" opacity="0.55"/>
<line x1="160.13" y1="532.14" x2="160.13" y2="536.46" stroke="#9a9a9a" stroke-width="0.35" opacity="0.55"/>
<line x1="170.28" y1="532.14" x2="170.28" y2="536.46" stroke="#9a9a9a" stroke-width="0.35" opacity="0.55"/>
<line x1="180.43" y1="532.14" x2="180.43" y2="536.46" stroke="#9a9a9a" stroke-width="0.35" opacity="0.55"/>
<line x1="190.58" y1="532.14" x2="190.58" y2="536.46" stroke="#9a9a9a" stroke-width="0.35" opacity="0.55"/>
<line x1="200.73" y1="532.14" x2="200.73" y2="536.46" stroke="#9a9a9a" stroke-width="0.35" opacity="0.55"/>
<line x1="210.88" y1="532.14" x2="210.88" y2="536.46" stroke="#9a9a9a" stroke-width="0.35" opacity="0.55"/>
<line x1="221.03" y1="532.14" x2="221.03" y2="536.46" stroke="#9a9a9a" stroke-width="0.35" opacity="0.55"/>
<g filter="url(#bl)">
<rect x="3.07" y="532.50" width="8.66" height="2.42" rx="1.0" fill="#101010" opacity="0.48"/>
<rect x="22.31" y="532.30" width="8.66" height="2.65" rx="1.0" fill="#101010" opacity="0.57"/>
<rect x="22.31" y="535.33" width="8.66" height="1.3" rx="0.5" fill="#222" opacity="0.29"/>
<rect x="31.93" y="532.99" width="8.66" height="3.34" rx="1.0" fill="#101010" opacity="0.84"/>
<rect x="31.93" y="536.36" width="8.66" height="1.3" rx="0.5" fill="#222" opacity="0.42"/>
<rect x="41.55" y="532.79" width="8.66" height="2.88" rx="1.0" fill="#101010" opacity="0.66"/>
<rect x="41.55" y="535.93" width="8.66" height="1.3" rx="0.5" fill="#222" opacity="0.33"/>
<rect x="51.17" y="532.92" width="8.66" height="3.11" rx="1.0" fill="#101010" opacity="0.75"/>
<rect x="51.17" y="536.17" width="8.66" height="1.3" rx="0.5" fill="#222" opacity="0.38"/>
<rect x="60.79" y="532.85" width="8.66" height="3.57" rx="1.0" fill="#101010" opacity="0.93"/>
<rect x="60.79" y="536.34" width="8.66" height="1.3" rx="0.5" fill="#222" opacity="0.47"/>
<rect x="70.41" y="532.34" width="8.66" height="3.68" rx="1.0" fill="#101010" opacity="0.97"/>
<rect x="70.41" y="535.89" width="8.66" height="1.3" rx="0.5" fill="#222" opacity="0.49"/>
<rect x="80.03" y="533.02" width="8.66" height="2.19" rx="1.0" fill="#101010" opacity="0.39"/>
<rect x="89.65" y="532.28" width="8.66" height="3.11" rx="1.0" fill="#101010" opacity="0.75"/>
<rect x="89.65" y="535.54" width="8.66" height="1.3" rx="0.5" fill="#222" opacity="0.38"/>
<rect x="99.27" y="533.62" width="8.66" height="2.19" rx="1.0" fill="#101010" opacity="0.39"/>
<rect x="108.89" y="533.04" width="8.66" height="3.46" rx="1.0" fill="#101010" opacity="0.89"/>
<rect x="108.89" y="536.47" width="8.66" height="1.3" rx="0.5" fill="#222" opacity="0.44"/>
<rect x="118.51" y="532.96" width="8.66" height="3.34" rx="1.0" fill="#101010" opacity="0.84"/>
<rect x="118.51" y="536.33" width="8.66" height="1.3" rx="0.5" fill="#222" opacity="0.42"/>
<rect x="129.09" y="533.96" width="6.73" height="1.73" rx="1.0" fill="#101010" opacity="0.21"/>
<rect x="140.33" y="533.41" width="9.13" height="2.19" rx="1.0" fill="#101010" opacity="0.39"/>
<rect x="150.48" y="533.13" width="9.13" height="2.88" rx="1.0" fill="#101010" opacity="0.66"/>
<rect x="150.48" y="536.27" width="9.13" height="1.3" rx="0.5" fill="#222" opacity="0.33"/>
<rect x="160.63" y="532.78" width="9.13" height="2.19" rx="1.0" fill="#101010" opacity="0.39"/>
<rect x="170.78" y="533.12" width="9.13" height="3.11" rx="1.0" fill="#101010" opacity="0.75"/>
<rect x="170.78" y="536.37" width="9.13" height="1.3" rx="0.5" fill="#222" opacity="0.38"/>
<rect x="180.93" y="532.23" width="9.13" height="3.68" rx="1.0" fill="#101010" opacity="0.97"/>
<rect x="180.93" y="535.77" width="9.13" height="1.3" rx="0.5" fill="#222" opacity="0.49"/>
<rect x="191.08" y="533.00" width="9.13" height="2.42" rx="1.0" fill="#101010" opacity="0.48"/>
<rect x="202.25" y="533.18" width="7.10" height="1.73" rx="1.0" fill="#101010" opacity="0.21"/>
<rect x="212.40" y="533.47" width="7.10" height="1.84" rx="1.0" fill="#101010" opacity="0.26"/>
</g>
<rect x="1.90" y="528.90" width="137.40" height="10.80" fill="none" stroke="#707070" stroke-width="0.9"/>
<rect x="140.80" y="528.90" width="90.90" height="10.80" fill="none" stroke="#707070" stroke-width="0.9"/>
<text x="234.00" y="534.98" font-size="6.4" fill="#111" stroke="#111" stroke-width="0.09">pERK</text>
<rect x="1.90" y="541.20" width="137.40" height="10.80" fill="#d9d9d9"/>
<rect x="140.80" y="541.20" width="90.90" height="10.80" fill="#d6d6d6"/>
<line x1="12.21" y1="544.44" x2="12.21" y2="548.76" stroke="#9a9a9a" stroke-width="0.35" opacity="0.55"/>
<line x1="21.83" y1="544.44" x2="21.83" y2="548.76" stroke="#9a9a9a" stroke-width="0.35" opacity="0.55"/>
<line x1="31.45" y1="544.44" x2="31.45" y2="548.76" stroke="#9a9a9a" stroke-width="0.35" opacity="0.55"/>
<line x1="41.07" y1="544.44" x2="41.07" y2="548.76" stroke="#9a9a9a" stroke-width="0.35" opacity="0.55"/>
<line x1="50.69" y1="544.44" x2="50.69" y2="548.76" stroke="#9a9a9a" stroke-width="0.35" opacity="0.55"/>
<line x1="60.31" y1="544.44" x2="60.31" y2="548.76" stroke="#9a9a9a" stroke-width="0.35" opacity="0.55"/>
<line x1="69.93" y1="544.44" x2="69.93" y2="548.76" stroke="#9a9a9a" stroke-width="0.35" opacity="0.55"/>
<line x1="79.55" y1="544.44" x2="79.55" y2="548.76" stroke="#9a9a9a" stroke-width="0.35" opacity="0.55"/>
<line x1="89.17" y1="544.44" x2="89.17" y2="548.76" stroke="#9a9a9a" stroke-width="0.35" opacity="0.55"/>
<line x1="98.79" y1="544.44" x2="98.79" y2="548.76" stroke="#9a9a9a" stroke-width="0.35" opacity="0.55"/>
<line x1="108.41" y1="544.44" x2="108.41" y2="548.76" stroke="#9a9a9a" stroke-width="0.35" opacity="0.55"/>
<line x1="118.03" y1="544.44" x2="118.03" y2="548.76" stroke="#9a9a9a" stroke-width="0.35" opacity="0.55"/>
<line x1="127.65" y1="544.44" x2="127.65" y2="548.76" stroke="#9a9a9a" stroke-width="0.35" opacity="0.55"/>
<line x1="149.98" y1="544.44" x2="149.98" y2="548.76" stroke="#9a9a9a" stroke-width="0.35" opacity="0.55"/>
<line x1="160.13" y1="544.44" x2="160.13" y2="548.76" stroke="#9a9a9a" stroke-width="0.35" opacity="0.55"/>
<line x1="170.28" y1="544.44" x2="170.28" y2="548.76" stroke="#9a9a9a" stroke-width="0.35" opacity="0.55"/>
<line x1="180.43" y1="544.44" x2="180.43" y2="548.76" stroke="#9a9a9a" stroke-width="0.35" opacity="0.55"/>
<line x1="190.58" y1="544.44" x2="190.58" y2="548.76" stroke="#9a9a9a" stroke-width="0.35" opacity="0.55"/>
<line x1="200.73" y1="544.44" x2="200.73" y2="548.76" stroke="#9a9a9a" stroke-width="0.35" opacity="0.55"/>
<line x1="210.88" y1="544.44" x2="210.88" y2="548.76" stroke="#9a9a9a" stroke-width="0.35" opacity="0.55"/>
<line x1="221.03" y1="544.44" x2="221.03" y2="548.76" stroke="#9a9a9a" stroke-width="0.35" opacity="0.55"/>
<g filter="url(#bl)">
<rect x="3.07" y="544.32" width="8.66" height="2.00" rx="0.7" fill="#1a1a1a" opacity="0.75"/>
<rect x="3.07" y="547.42" width="8.66" height="2.00" rx="0.7" fill="#1a1a1a" opacity="0.75"/>
<rect x="12.69" y="544.21" width="8.66" height="2.00" rx="0.7" fill="#1a1a1a" opacity="0.57"/>
<rect x="12.69" y="547.31" width="8.66" height="2.00" rx="0.7" fill="#1a1a1a" opacity="0.57"/>
<rect x="22.31" y="543.85" width="8.66" height="2.00" rx="0.7" fill="#1a1a1a" opacity="0.84"/>
<rect x="22.31" y="546.95" width="8.66" height="2.00" rx="0.7" fill="#1a1a1a" opacity="0.84"/>
<rect x="31.93" y="543.71" width="8.66" height="2.00" rx="0.7" fill="#1a1a1a" opacity="0.57"/>
<rect x="31.93" y="546.81" width="8.66" height="2.00" rx="0.7" fill="#1a1a1a" opacity="0.57"/>
<rect x="41.55" y="544.58" width="8.66" height="2.00" rx="0.7" fill="#1a1a1a" opacity="0.57"/>
<rect x="41.55" y="547.68" width="8.66" height="2.00" rx="0.7" fill="#1a1a1a" opacity="0.57"/>
<rect x="51.17" y="543.82" width="8.66" height="2.00" rx="0.7" fill="#1a1a1a" opacity="0.66"/>
<rect x="51.17" y="546.92" width="8.66" height="2.00" rx="0.7" fill="#1a1a1a" opacity="0.66"/>
<rect x="60.79" y="544.01" width="8.66" height="2.00" rx="0.7" fill="#1a1a1a" opacity="0.66"/>
<rect x="60.79" y="547.11" width="8.66" height="2.00" rx="0.7" fill="#1a1a1a" opacity="0.66"/>
<rect x="70.41" y="543.53" width="8.66" height="2.00" rx="0.7" fill="#1a1a1a" opacity="0.66"/>
<rect x="70.41" y="546.63" width="8.66" height="2.00" rx="0.7" fill="#1a1a1a" opacity="0.66"/>
<rect x="80.03" y="543.82" width="8.66" height="2.00" rx="0.7" fill="#1a1a1a" opacity="0.84"/>
<rect x="80.03" y="546.92" width="8.66" height="2.00" rx="0.7" fill="#1a1a1a" opacity="0.84"/>
<rect x="89.65" y="543.52" width="8.66" height="2.00" rx="0.7" fill="#1a1a1a" opacity="0.75"/>
<rect x="89.65" y="546.62" width="8.66" height="2.00" rx="0.7" fill="#1a1a1a" opacity="0.75"/>
<rect x="99.27" y="543.88" width="8.66" height="2.00" rx="0.7" fill="#1a1a1a" opacity="0.75"/>
<rect x="99.27" y="546.98" width="8.66" height="2.00" rx="0.7" fill="#1a1a1a" opacity="0.75"/>
<rect x="108.89" y="544.39" width="8.66" height="2.00" rx="0.7" fill="#1a1a1a" opacity="0.66"/>
<rect x="108.89" y="547.49" width="8.66" height="2.00" rx="0.7" fill="#1a1a1a" opacity="0.66"/>
<rect x="118.51" y="544.76" width="8.66" height="2.00" rx="0.7" fill="#1a1a1a" opacity="0.84"/>
<rect x="118.51" y="547.86" width="8.66" height="2.00" rx="0.7" fill="#1a1a1a" opacity="0.84"/>
<rect x="128.13" y="544.28" width="8.66" height="2.00" rx="0.7" fill="#1a1a1a" opacity="0.75"/>
<rect x="128.13" y="547.38" width="8.66" height="2.00" rx="0.7" fill="#1a1a1a" opacity="0.75"/>
<rect x="140.33" y="543.78" width="9.13" height="2.00" rx="0.7" fill="#1a1a1a" opacity="0.75"/>
<rect x="140.33" y="546.88" width="9.13" height="2.00" rx="0.7" fill="#1a1a1a" opacity="0.75"/>
<rect x="150.48" y="544.32" width="9.13" height="2.00" rx="0.7" fill="#1a1a1a" opacity="0.84"/>
<rect x="150.48" y="547.42" width="9.13" height="2.00" rx="0.7" fill="#1a1a1a" opacity="0.84"/>
<rect x="160.63" y="544.28" width="9.13" height="2.00" rx="0.7" fill="#1a1a1a" opacity="0.75"/>
<rect x="160.63" y="547.38" width="9.13" height="2.00" rx="0.7" fill="#1a1a1a" opacity="0.75"/>
<rect x="170.78" y="544.56" width="9.13" height="2.00" rx="0.7" fill="#1a1a1a" opacity="0.84"/>
<rect x="170.78" y="547.66" width="9.13" height="2.00" rx="0.7" fill="#1a1a1a" opacity="0.84"/>
<rect x="180.93" y="544.15" width="9.13" height="2.00" rx="0.7" fill="#1a1a1a" opacity="0.84"/>
<rect x="180.93" y="547.25" width="9.13" height="2.00" rx="0.7" fill="#1a1a1a" opacity="0.84"/>
<rect x="191.08" y="544.68" width="9.13" height="2.00" rx="0.7" fill="#1a1a1a" opacity="0.75"/>
<rect x="191.08" y="547.78" width="9.13" height="2.00" rx="0.7" fill="#1a1a1a" opacity="0.75"/>
<rect x="201.23" y="543.98" width="9.13" height="2.00" rx="0.7" fill="#1a1a1a" opacity="0.75"/>
<rect x="201.23" y="547.08" width="9.13" height="2.00" rx="0.7" fill="#1a1a1a" opacity="0.75"/>
<rect x="211.38" y="543.80" width="9.13" height="2.00" rx="0.7" fill="#1a1a1a" opacity="0.75"/>
<rect x="211.38" y="546.90" width="9.13" height="2.00" rx="0.7" fill="#1a1a1a" opacity="0.75"/>
<rect x="221.53" y="544.13" width="9.13" height="2.00" rx="0.7" fill="#1a1a1a" opacity="0.84"/>
<rect x="221.53" y="547.23" width="9.13" height="2.00" rx="0.7" fill="#1a1a1a" opacity="0.84"/>
</g>
<rect x="1.90" y="541.20" width="137.40" height="10.80" fill="none" stroke="#707070" stroke-width="0.9"/>
<rect x="140.80" y="541.20" width="90.90" height="10.80" fill="none" stroke="#707070" stroke-width="0.9"/>
<text x="234.00" y="547.36" font-size="6.4" fill="#111" stroke="#111" stroke-width="0.09">ERK</text>
<rect x="1.90" y="553.40" width="137.40" height="10.50" fill="#f3f3f3"/>
<rect x="140.80" y="553.40" width="90.90" height="10.50" fill="#f5f5f5"/>
<line x1="12.21" y1="556.55" x2="12.21" y2="560.75" stroke="#9a9a9a" stroke-width="0.35" opacity="0.55"/>
<line x1="21.83" y1="556.55" x2="21.83" y2="560.75" stroke="#9a9a9a" stroke-width="0.35" opacity="0.55"/>
<line x1="31.45" y1="556.55" x2="31.45" y2="560.75" stroke="#9a9a9a" stroke-width="0.35" opacity="0.55"/>
<line x1="41.07" y1="556.55" x2="41.07" y2="560.75" stroke="#9a9a9a" stroke-width="0.35" opacity="0.55"/>
<line x1="50.69" y1="556.55" x2="50.69" y2="560.75" stroke="#9a9a9a" stroke-width="0.35" opacity="0.55"/>
<line x1="60.31" y1="556.55" x2="60.31" y2="560.75" stroke="#9a9a9a" stroke-width="0.35" opacity="0.55"/>
<line x1="69.93" y1="556.55" x2="69.93" y2="560.75" stroke="#9a9a9a" stroke-width="0.35" opacity="0.55"/>
<line x1="79.55" y1="556.55" x2="79.55" y2="560.75" stroke="#9a9a9a" stroke-width="0.35" opacity="0.55"/>
<line x1="89.17" y1="556.55" x2="89.17" y2="560.75" stroke="#9a9a9a" stroke-width="0.35" opacity="0.55"/>
<line x1="98.79" y1="556.55" x2="98.79" y2="560.75" stroke="#9a9a9a" stroke-width="0.35" opacity="0.55"/>
<line x1="108.41" y1="556.55" x2="108.41" y2="560.75" stroke="#9a9a9a" stroke-width="0.35" opacity="0.55"/>
<line x1="118.03" y1="556.55" x2="118.03" y2="560.75" stroke="#9a9a9a" stroke-width="0.35" opacity="0.55"/>
<line x1="127.65" y1="556.55" x2="127.65" y2="560.75" stroke="#9a9a9a" stroke-width="0.35" opacity="0.55"/>
<line x1="149.98" y1="556.55" x2="149.98" y2="560.75" stroke="#9a9a9a" stroke-width="0.35" opacity="0.55"/>
<line x1="160.13" y1="556.55" x2="160.13" y2="560.75" stroke="#9a9a9a" stroke-width="0.35" opacity="0.55"/>
<line x1="170.28" y1="556.55" x2="170.28" y2="560.75" stroke="#9a9a9a" stroke-width="0.35" opacity="0.55"/>
<line x1="180.43" y1="556.55" x2="180.43" y2="560.75" stroke="#9a9a9a" stroke-width="0.35" opacity="0.55"/>
<line x1="190.58" y1="556.55" x2="190.58" y2="560.75" stroke="#9a9a9a" stroke-width="0.35" opacity="0.55"/>
<line x1="200.73" y1="556.55" x2="200.73" y2="560.75" stroke="#9a9a9a" stroke-width="0.35" opacity="0.55"/>
<line x1="210.88" y1="556.55" x2="210.88" y2="560.75" stroke="#9a9a9a" stroke-width="0.35" opacity="0.55"/>
<line x1="221.03" y1="556.55" x2="221.03" y2="560.75" stroke="#9a9a9a" stroke-width="0.35" opacity="0.55"/>
<g filter="url(#bl)">
<rect x="3.07" y="557.69" width="8.66" height="3.11" rx="1.0" fill="#101010" opacity="0.75"/>
<rect x="12.69" y="557.41" width="8.66" height="3.11" rx="1.0" fill="#101010" opacity="0.75"/>
<rect x="22.31" y="556.86" width="8.66" height="3.57" rx="1.0" fill="#101010" opacity="0.93"/>
<rect x="31.93" y="556.86" width="8.66" height="3.57" rx="1.0" fill="#101010" opacity="0.93"/>
<rect x="41.55" y="557.76" width="8.66" height="2.19" rx="1.0" fill="#101010" opacity="0.39"/>
<rect x="51.17" y="556.68" width="8.66" height="3.80" rx="1.0" fill="#101010" opacity="1.00"/>
<rect x="69.64" y="556.82" width="10.20" height="3.80" rx="1.0" fill="#101010" opacity="1.00"/>
<rect x="79.26" y="557.41" width="10.20" height="3.80" rx="1.0" fill="#101010" opacity="1.00"/>
<rect x="88.88" y="557.47" width="10.20" height="3.57" rx="1.0" fill="#101010" opacity="0.93"/>
<rect x="98.50" y="557.23" width="10.20" height="3.80" rx="1.0" fill="#101010" opacity="1.00"/>
<rect x="108.12" y="556.23" width="10.20" height="3.80" rx="1.0" fill="#101010" opacity="1.00"/>
<rect x="117.79" y="556.02" width="10.10" height="5.25" rx="1.0" fill="#101010" opacity="1.00"/>
<rect x="140.33" y="557.02" width="9.13" height="2.88" rx="1.0" fill="#101010" opacity="0.66"/>
<rect x="151.50" y="558.36" width="7.10" height="1.73" rx="1.0" fill="#101010" opacity="0.21"/>
<rect x="160.63" y="557.29" width="9.13" height="2.19" rx="1.0" fill="#101010" opacity="0.39"/>
<rect x="170.78" y="558.16" width="9.13" height="2.19" rx="1.0" fill="#101010" opacity="0.39"/>
<rect x="180.93" y="556.50" width="9.13" height="3.57" rx="1.0" fill="#101010" opacity="0.93"/>
<rect x="192.10" y="557.62" width="7.10" height="1.84" rx="1.0" fill="#101010" opacity="0.26"/>
<rect x="211.38" y="558.08" width="9.13" height="2.42" rx="1.0" fill="#101010" opacity="0.48"/>
<rect x="221.53" y="557.11" width="9.13" height="3.34" rx="1.0" fill="#101010" opacity="0.84"/>
</g>
<rect x="1.90" y="553.40" width="137.40" height="10.50" fill="none" stroke="#707070" stroke-width="0.9"/>
<rect x="140.80" y="553.40" width="90.90" height="10.50" fill="none" stroke="#707070" stroke-width="0.9"/>
<text x="234.00" y="559.49" font-size="6.4" fill="#111" stroke="#111" stroke-width="0.09">pAKT</text>
<rect x="1.90" y="565.20" width="137.40" height="10.40" fill="#f1f1f1"/>
<rect x="140.80" y="565.20" width="90.90" height="10.40" fill="#f3f3f3"/>
<line x1="12.21" y1="568.32" x2="12.21" y2="572.48" stroke="#9a9a9a" stroke-width="0.35" opacity="0.55"/>
<line x1="21.83" y1="568.32" x2="21.83" y2="572.48" stroke="#9a9a9a" stroke-width="0.35" opacity="0.55"/>
<line x1="31.45" y1="568.32" x2="31.45" y2="572.48" stroke="#9a9a9a" stroke-width="0.35" opacity="0.55"/>
<line x1="41.07" y1="568.32" x2="41.07" y2="572.48" stroke="#9a9a9a" stroke-width="0.35" opacity="0.55"/>
<line x1="50.69" y1="568.32" x2="50.69" y2="572.48" stroke="#9a9a9a" stroke-width="0.35" opacity="0.55"/>
<line x1="60.31" y1="568.32" x2="60.31" y2="572.48" stroke="#9a9a9a" stroke-width="0.35" opacity="0.55"/>
<line x1="69.93" y1="568.32" x2="69.93" y2="572.48" stroke="#9a9a9a" stroke-width="0.35" opacity="0.55"/>
<line x1="79.55" y1="568.32" x2="79.55" y2="572.48" stroke="#9a9a9a" stroke-width="0.35" opacity="0.55"/>
<line x1="89.17" y1="568.32" x2="89.17" y2="572.48" stroke="#9a9a9a" stroke-width="0.35" opacity="0.55"/>
<line x1="98.79" y1="568.32" x2="98.79" y2="572.48" stroke="#9a9a9a" stroke-width="0.35" opacity="0.55"/>
<line x1="108.41" y1="568.32" x2="108.41" y2="572.48" stroke="#9a9a9a" stroke-width="0.35" opacity="0.55"/>
<line x1="118.03" y1="568.32" x2="118.03" y2="572.48" stroke="#9a9a9a" stroke-width="0.35" opacity="0.55"/>
<line x1="127.65" y1="568.32" x2="127.65" y2="572.48" stroke="#9a9a9a" stroke-width="0.35" opacity="0.55"/>
<line x1="149.98" y1="568.32" x2="149.98" y2="572.48" stroke="#9a9a9a" stroke-width="0.35" opacity="0.55"/>
<line x1="160.13" y1="568.32" x2="160.13" y2="572.48" stroke="#9a9a9a" stroke-width="0.35" opacity="0.55"/>
<line x1="170.28" y1="568.32" x2="170.28" y2="572.48" stroke="#9a9a9a" stroke-width="0.35" opacity="0.55"/>
<line x1="180.43" y1="568.32" x2="180.43" y2="572.48" stroke="#9a9a9a" stroke-width="0.35" opacity="0.55"/>
<line x1="190.58" y1="568.32" x2="190.58" y2="572.48" stroke="#9a9a9a" stroke-width="0.35" opacity="0.55"/>
<line x1="200.73" y1="568.32" x2="200.73" y2="572.48" stroke="#9a9a9a" stroke-width="0.35" opacity="0.55"/>
<line x1="210.88" y1="568.32" x2="210.88" y2="572.48" stroke="#9a9a9a" stroke-width="0.35" opacity="0.55"/>
<line x1="221.03" y1="568.32" x2="221.03" y2="572.48" stroke="#9a9a9a" stroke-width="0.35" opacity="0.55"/>
<g filter="url(#bl)">
<rect x="4.03" y="570.61" width="6.73" height="2.00" rx="1.0" fill="#101010" opacity="0.26"/>
<rect x="12.69" y="570.05" width="8.66" height="2.00" rx="1.0" fill="#101010" opacity="0.57"/>
<rect x="23.27" y="569.62" width="6.73" height="2.00" rx="1.0" fill="#101010" opacity="0.26"/>
<rect x="31.93" y="570.30" width="8.66" height="2.00" rx="1.0" fill="#101010" opacity="0.84"/>
<rect x="41.55" y="570.03" width="8.66" height="2.00" rx="1.0" fill="#101010" opacity="0.75"/>
<rect x="51.17" y="570.01" width="8.66" height="2.00" rx="1.0" fill="#101010" opacity="0.84"/>
<rect x="60.79" y="569.49" width="8.66" height="2.00" rx="1.0" fill="#101010" opacity="0.66"/>
<rect x="70.41" y="569.50" width="8.66" height="2.00" rx="1.0" fill="#101010" opacity="0.75"/>
<rect x="80.03" y="570.60" width="8.66" height="2.00" rx="1.0" fill="#101010" opacity="0.75"/>
<rect x="89.65" y="570.64" width="8.66" height="2.00" rx="1.0" fill="#101010" opacity="0.39"/>
<rect x="99.27" y="570.65" width="8.66" height="2.00" rx="1.0" fill="#101010" opacity="0.93"/>
<rect x="108.89" y="569.80" width="8.66" height="2.00" rx="1.0" fill="#101010" opacity="0.48"/>
<rect x="119.47" y="569.36" width="6.73" height="2.00" rx="1.0" fill="#101010" opacity="0.30"/>
<rect x="128.13" y="570.08" width="8.66" height="2.00" rx="1.0" fill="#101010" opacity="0.57"/>
<rect x="140.33" y="570.33" width="9.13" height="2.00" rx="1.0" fill="#101010" opacity="0.66"/>
<rect x="150.48" y="570.21" width="9.13" height="2.00" rx="1.0" fill="#101010" opacity="0.57"/>
<rect x="160.63" y="569.37" width="9.13" height="2.00" rx="1.0" fill="#101010" opacity="0.39"/>
<rect x="170.78" y="569.63" width="9.13" height="2.00" rx="1.0" fill="#101010" opacity="0.39"/>
<rect x="180.93" y="570.29" width="9.13" height="2.00" rx="1.0" fill="#101010" opacity="0.84"/>
<rect x="191.08" y="569.38" width="9.13" height="2.00" rx="1.0" fill="#101010" opacity="0.48"/>
<rect x="211.38" y="570.49" width="9.13" height="2.00" rx="1.0" fill="#101010" opacity="0.84"/>
<rect x="221.53" y="570.68" width="9.13" height="2.00" rx="1.0" fill="#101010" opacity="0.57"/>
</g>
<rect x="1.90" y="565.20" width="137.40" height="10.40" fill="none" stroke="#707070" stroke-width="0.9"/>
<rect x="140.80" y="565.20" width="90.90" height="10.40" fill="none" stroke="#707070" stroke-width="0.9"/>
<text x="234.00" y="571.32" font-size="6.4" fill="#111" stroke="#111" stroke-width="0.09">AKT</text>
<rect x="1.90" y="576.80" width="137.40" height="10.90" fill="#bdbdbd"/>
<rect x="140.80" y="576.80" width="90.90" height="10.90" fill="#bababa"/>
<line x1="12.21" y1="580.07" x2="12.21" y2="584.43" stroke="#8a8a8a" stroke-width="0.35" opacity="0.55"/>
<line x1="21.83" y1="580.07" x2="21.83" y2="584.43" stroke="#8a8a8a" stroke-width="0.35" opacity="0.55"/>
<line x1="31.45" y1="580.07" x2="31.45" y2="584.43" stroke="#8a8a8a" stroke-width="0.35" opacity="0.55"/>
<line x1="41.07" y1="580.07" x2="41.07" y2="584.43" stroke="#8a8a8a" stroke-width="0.35" opacity="0.55"/>
<line x1="50.69" y1="580.07" x2="50.69" y2="584.43" stroke="#8a8a8a" stroke-width="0.35" opacity="0.55"/>
<line x1="60.31" y1="580.07" x2="60.31" y2="584.43" stroke="#8a8a8a" stroke-width="0.35" opacity="0.55"/>
<line x1="69.93" y1="580.07" x2="69.93" y2="584.43" stroke="#8a8a8a" stroke-width="0.35" opacity="0.55"/>
<line x1="79.55" y1="580.07" x2="79.55" y2="584.43" stroke="#8a8a8a" stroke-width="0.35" opacity="0.55"/>
<line x1="89.17" y1="580.07" x2="89.17" y2="584.43" stroke="#8a8a8a" stroke-width="0.35" opacity="0.55"/>
<line x1="98.79" y1="580.07" x2="98.79" y2="584.43" stroke="#8a8a8a" stroke-width="0.35" opacity="0.55"/>
<line x1="108.41" y1="580.07" x2="108.41" y2="584.43" stroke="#8a8a8a" stroke-width="0.35" opacity="0.55"/>
<line x1="118.03" y1="580.07" x2="118.03" y2="584.43" stroke="#8a8a8a" stroke-width="0.35" opacity="0.55"/>
<line x1="127.65" y1="580.07" x2="127.65" y2="584.43" stroke="#8a8a8a" stroke-width="0.35" opacity="0.55"/>
<line x1="149.98" y1="580.07" x2="149.98" y2="584.43" stroke="#8a8a8a" stroke-width="0.35" opacity="0.55"/>
<line x1="160.13" y1="580.07" x2="160.13" y2="584.43" stroke="#8a8a8a" stroke-width="0.35" opacity="0.55"/>
<line x1="170.28" y1="580.07" x2="170.28" y2="584.43" stroke="#8a8a8a" stroke-width="0.35" opacity="0.55"/>
<line x1="180.43" y1="580.07" x2="180.43" y2="584.43" stroke="#8a8a8a" stroke-width="0.35" opacity="0.55"/>
<line x1="190.58" y1="580.07" x2="190.58" y2="584.43" stroke="#8a8a8a" stroke-width="0.35" opacity="0.55"/>
<line x1="200.73" y1="580.07" x2="200.73" y2="584.43" stroke="#8a8a8a" stroke-width="0.35" opacity="0.55"/>
<line x1="210.88" y1="580.07" x2="210.88" y2="584.43" stroke="#8a8a8a" stroke-width="0.35" opacity="0.55"/>
<line x1="221.03" y1="580.07" x2="221.03" y2="584.43" stroke="#8a8a8a" stroke-width="0.35" opacity="0.55"/>
<g filter="url(#bl)">
<rect x="4.03" y="581.68" width="6.73" height="1.64" rx="1.0" fill="#101010" opacity="0.26"/>
<rect x="13.65" y="581.45" width="6.73" height="1.56" rx="1.0" fill="#101010" opacity="0.21"/>
<rect x="22.31" y="582.26" width="8.66" height="2.52" rx="1.0" fill="#101010" opacity="0.75"/>
<rect x="31.93" y="581.84" width="8.66" height="2.76" rx="1.0" fill="#101010" opacity="0.89"/>
<rect x="51.17" y="581.61" width="8.66" height="2.36" rx="1.0" fill="#101010" opacity="0.66"/>
<rect x="60.79" y="581.48" width="8.66" height="2.68" rx="1.0" fill="#101010" opacity="0.84"/>
<rect x="70.41" y="582.05" width="8.66" height="2.76" rx="1.0" fill="#101010" opacity="0.89"/>
<rect x="80.03" y="581.23" width="8.66" height="2.84" rx="1.0" fill="#101010" opacity="0.93"/>
<rect x="89.65" y="580.80" width="8.66" height="2.84" rx="1.0" fill="#101010" opacity="0.93"/>
<rect x="99.27" y="581.75" width="8.66" height="2.52" rx="1.0" fill="#101010" opacity="0.75"/>
<rect x="108.89" y="581.21" width="8.66" height="2.76" rx="1.0" fill="#101010" opacity="0.89"/>
<rect x="118.51" y="581.72" width="8.66" height="2.76" rx="1.0" fill="#101010" opacity="0.89"/>
<rect x="129.09" y="582.70" width="6.73" height="1.56" rx="1.0" fill="#101010" opacity="0.21"/>
<rect x="140.33" y="581.27" width="9.13" height="2.76" rx="1.0" fill="#101010" opacity="0.89"/>
<rect x="150.48" y="581.12" width="9.13" height="2.76" rx="1.0" fill="#101010" opacity="0.89"/>
<rect x="160.63" y="580.84" width="9.13" height="2.76" rx="1.0" fill="#101010" opacity="0.89"/>
<rect x="170.78" y="581.93" width="9.13" height="2.76" rx="1.0" fill="#101010" opacity="0.89"/>
<rect x="180.93" y="580.88" width="9.13" height="2.76" rx="1.0" fill="#101010" opacity="0.89"/>
<rect x="191.08" y="582.38" width="9.13" height="2.20" rx="1.0" fill="#101010" opacity="0.57"/>
<rect x="211.38" y="581.88" width="9.13" height="2.52" rx="1.0" fill="#101010" opacity="0.75"/>
<rect x="221.53" y="582.05" width="9.13" height="2.76" rx="1.0" fill="#101010" opacity="0.89"/>
</g>
<rect x="1.90" y="576.80" width="137.40" height="10.90" fill="none" stroke="#707070" stroke-width="0.9"/>
<rect x="140.80" y="576.80" width="90.90" height="10.90" fill="none" stroke="#707070" stroke-width="0.9"/>
<text x="234.00" y="583.24" font-size="6.4" fill="#111" stroke="#111" stroke-width="0.09">pS6</text>
<rect x="1.90" y="589.20" width="137.40" height="10.80" fill="#c3c3c3"/>
<rect x="140.80" y="589.20" width="90.90" height="10.80" fill="#c0c0c0"/>
<line x1="12.21" y1="592.44" x2="12.21" y2="596.76" stroke="#8a8a8a" stroke-width="0.35" opacity="0.55"/>
<line x1="21.83" y1="592.44" x2="21.83" y2="596.76" stroke="#8a8a8a" stroke-width="0.35" opacity="0.55"/>
<line x1="31.45" y1="592.44" x2="31.45" y2="596.76" stroke="#8a8a8a" stroke-width="0.35" opacity="0.55"/>
<line x1="41.07" y1="592.44" x2="41.07" y2="596.76" stroke="#8a8a8a" stroke-width="0.35" opacity="0.55"/>
<line x1="50.69" y1="592.44" x2="50.69" y2="596.76" stroke="#8a8a8a" stroke-width="0.35" opacity="0.55"/>
<line x1="60.31" y1="592.44" x2="60.31" y2="596.76" stroke="#8a8a8a" stroke-width="0.35" opacity="0.55"/>
<line x1="69.93" y1="592.44" x2="69.93" y2="596.76" stroke="#8a8a8a" stroke-width="0.35" opacity="0.55"/>
<line x1="79.55" y1="592.44" x2="79.55" y2="596.76" stroke="#8a8a8a" stroke-width="0.35" opacity="0.55"/>
<line x1="89.17" y1="592.44" x2="89.17" y2="596.76" stroke="#8a8a8a" stroke-width="0.35" opacity="0.55"/>
<line x1="98.79" y1="592.44" x2="98.79" y2="596.76" stroke="#8a8a8a" stroke-width="0.35" opacity="0.55"/>
<line x1="108.41" y1="592.44" x2="108.41" y2="596.76" stroke="#8a8a8a" stroke-width="0.35" opacity="0.55"/>
<line x1="118.03" y1="592.44" x2="118.03" y2="596.76" stroke="#8a8a8a" stroke-width="0.35" opacity="0.55"/>
<line x1="127.65" y1="592.44" x2="127.65" y2="596.76" stroke="#8a8a8a" stroke-width="0.35" opacity="0.55"/>
<line x1="149.98" y1="592.44" x2="149.98" y2="596.76" stroke="#8a8a8a" stroke-width="0.35" opacity="0.55"/>
<line x1="160.13" y1="592.44" x2="160.13" y2="596.76" stroke="#8a8a8a" stroke-width="0.35" opacity="0.55"/>
<line x1="170.28" y1="592.44" x2="170.28" y2="596.76" stroke="#8a8a8a" stroke-width="0.35" opacity="0.55"/>
<line x1="180.43" y1="592.44" x2="180.43" y2="596.76" stroke="#8a8a8a" stroke-width="0.35" opacity="0.55"/>
<line x1="190.58" y1="592.44" x2="190.58" y2="596.76" stroke="#8a8a8a" stroke-width="0.35" opacity="0.55"/>
<line x1="200.73" y1="592.44" x2="200.73" y2="596.76" stroke="#8a8a8a" stroke-width="0.35" opacity="0.55"/>
<line x1="210.88" y1="592.44" x2="210.88" y2="596.76" stroke="#8a8a8a" stroke-width="0.35" opacity="0.55"/>
<line x1="221.03" y1="592.44" x2="221.03" y2="596.76" stroke="#8a8a8a" stroke-width="0.35" opacity="0.55"/>
<g filter="url(#bl)">
<rect x="2.40" y="593.54" width="10.00" height="3.00" rx="1.0" fill="#101010" opacity="0.84"/>
<rect x="12.02" y="592.67" width="10.00" height="3.00" rx="1.0" fill="#101010" opacity="0.84"/>
<rect x="21.64" y="592.65" width="10.00" height="3.00" rx="1.0" fill="#101010" opacity="0.84"/>
<rect x="31.26" y="593.75" width="10.00" height="3.00" rx="1.0" fill="#101010" opacity="0.84"/>
<rect x="40.88" y="592.81" width="10.00" height="3.00" rx="1.0" fill="#101010" opacity="0.84"/>
<rect x="50.50" y="593.51" width="10.00" height="3.00" rx="1.0" fill="#101010" opacity="0.84"/>
<rect x="60.12" y="592.64" width="10.00" height="3.00" rx="1.0" fill="#101010" opacity="0.84"/>
<rect x="69.74" y="592.82" width="10.00" height="3.00" rx="1.0" fill="#101010" opacity="0.84"/>
<rect x="79.36" y="593.34" width="10.00" height="3.00" rx="1.0" fill="#101010" opacity="0.84"/>
<rect x="88.98" y="592.75" width="10.00" height="3.00" rx="1.0" fill="#101010" opacity="0.84"/>
<rect x="98.60" y="593.45" width="10.00" height="3.00" rx="1.0" fill="#101010" opacity="0.84"/>
<rect x="108.22" y="593.63" width="10.00" height="3.00" rx="1.0" fill="#101010" opacity="0.84"/>
<rect x="117.84" y="592.85" width="10.00" height="3.00" rx="1.0" fill="#101010" opacity="0.84"/>
<rect x="127.46" y="592.82" width="10.00" height="3.00" rx="1.0" fill="#101010" opacity="0.84"/>
<rect x="139.62" y="592.44" width="10.56" height="3.00" rx="1.0" fill="#101010" opacity="0.84"/>
<rect x="149.77" y="592.99" width="10.56" height="3.00" rx="1.0" fill="#101010" opacity="0.84"/>
<rect x="159.92" y="592.49" width="10.56" height="3.00" rx="1.0" fill="#101010" opacity="0.84"/>
<rect x="170.07" y="593.20" width="10.56" height="3.00" rx="1.0" fill="#101010" opacity="0.84"/>
<rect x="180.22" y="593.36" width="10.56" height="3.00" rx="1.0" fill="#101010" opacity="0.84"/>
<rect x="190.37" y="593.20" width="10.56" height="3.00" rx="1.0" fill="#101010" opacity="0.84"/>
<rect x="210.67" y="593.25" width="10.56" height="3.00" rx="1.0" fill="#101010" opacity="0.84"/>
<rect x="220.82" y="593.24" width="10.56" height="3.00" rx="1.0" fill="#101010" opacity="0.84"/>
</g>
<rect x="1.90" y="589.20" width="137.40" height="10.80" fill="none" stroke="#707070" stroke-width="0.9"/>
<rect x="140.80" y="589.20" width="90.90" height="10.80" fill="none" stroke="#707070" stroke-width="0.9"/>
<text x="234.00" y="595.87" font-size="7.4" fill="#111" stroke="#111" stroke-width="0.10">S6</text>
<rect x="1.90" y="601.40" width="137.40" height="10.90" fill="#dcdcdc"/>
<rect x="140.80" y="601.40" width="90.90" height="10.90" fill="#dadada"/>
<line x1="12.21" y1="604.67" x2="12.21" y2="609.03" stroke="#9a9a9a" stroke-width="0.35" opacity="0.55"/>
<line x1="21.83" y1="604.67" x2="21.83" y2="609.03" stroke="#9a9a9a" stroke-width="0.35" opacity="0.55"/>
<line x1="31.45" y1="604.67" x2="31.45" y2="609.03" stroke="#9a9a9a" stroke-width="0.35" opacity="0.55"/>
<line x1="41.07" y1="604.67" x2="41.07" y2="609.03" stroke="#9a9a9a" stroke-width="0.35" opacity="0.55"/>
<line x1="50.69" y1="604.67" x2="50.69" y2="609.03" stroke="#9a9a9a" stroke-width="0.35" opacity="0.55"/>
<line x1="60.31" y1="604.67" x2="60.31" y2="609.03" stroke="#9a9a9a" stroke-width="0.35" opacity="0.55"/>
<line x1="69.93" y1="604.67" x2="69.93" y2="609.03" stroke="#9a9a9a" stroke-width="0.35" opacity="0.55"/>
<line x1="79.55" y1="604.67" x2="79.55" y2="609.03" stroke="#9a9a9a" stroke-width="0.35" opacity="0.55"/>
<line x1="89.17" y1="604.67" x2="89.17" y2="609.03" stroke="#9a9a9a" stroke-width="0.35" opacity="0.55"/>
<line x1="98.79" y1="604.67" x2="98.79" y2="609.03" stroke="#9a9a9a" stroke-width="0.35" opacity="0.55"/>
<line x1="108.41" y1="604.67" x2="108.41" y2="609.03" stroke="#9a9a9a" stroke-width="0.35" opacity="0.55"/>
<line x1="118.03" y1="604.67" x2="118.03" y2="609.03" stroke="#9a9a9a" stroke-width="0.35" opacity="0.55"/>
<line x1="127.65" y1="604.67" x2="127.65" y2="609.03" stroke="#9a9a9a" stroke-width="0.35" opacity="0.55"/>
<line x1="149.98" y1="604.67" x2="149.98" y2="609.03" stroke="#9a9a9a" stroke-width="0.35" opacity="0.55"/>
<line x1="160.13" y1="604.67" x2="160.13" y2="609.03" stroke="#9a9a9a" stroke-width="0.35" opacity="0.55"/>
<line x1="170.28" y1="604.67" x2="170.28" y2="609.03" stroke="#9a9a9a" stroke-width="0.35" opacity="0.55"/>
<line x1="180.43" y1="604.67" x2="180.43" y2="609.03" stroke="#9a9a9a" stroke-width="0.35" opacity="0.55"/>
<line x1="190.58" y1="604.67" x2="190.58" y2="609.03" stroke="#9a9a9a" stroke-width="0.35" opacity="0.55"/>
<line x1="200.73" y1="604.67" x2="200.73" y2="609.03" stroke="#9a9a9a" stroke-width="0.35" opacity="0.55"/>
<line x1="210.88" y1="604.67" x2="210.88" y2="609.03" stroke="#9a9a9a" stroke-width="0.35" opacity="0.55"/>
<line x1="221.03" y1="604.67" x2="221.03" y2="609.03" stroke="#9a9a9a" stroke-width="0.35" opacity="0.55"/>
<g filter="url(#bl)">
<rect x="3.07" y="604.31" width="8.66" height="3.80" rx="1.0" fill="#101010" opacity="1.00"/>
<rect x="12.69" y="603.79" width="8.66" height="3.80" rx="1.0" fill="#101010" opacity="1.00"/>
<rect x="22.31" y="604.49" width="8.66" height="3.34" rx="1.0" fill="#101010" opacity="0.84"/>
<rect x="32.89" y="604.60" width="6.73" height="1.68" rx="1.0" fill="#101010" opacity="0.19"/>
<rect x="61.75" y="604.28" width="6.73" height="1.73" rx="1.0" fill="#101010" opacity="0.21"/>
<rect x="70.41" y="603.42" width="8.66" height="3.68" rx="1.0" fill="#101010" opacity="0.97"/>
<rect x="89.65" y="604.22" width="8.66" height="3.68" rx="1.0" fill="#101010" opacity="0.97"/>
<rect x="118.51" y="603.43" width="8.66" height="3.68" rx="1.0" fill="#101010" opacity="0.97"/>
<rect x="140.33" y="604.25" width="9.13" height="3.57" rx="1.0" fill="#101010" opacity="0.93"/>
<rect x="151.50" y="605.23" width="7.10" height="1.96" rx="1.0" fill="#101010" opacity="0.30"/>
<rect x="160.63" y="603.93" width="9.13" height="3.57" rx="1.0" fill="#101010" opacity="0.93"/>
<rect x="171.80" y="604.29" width="7.10" height="1.73" rx="1.0" fill="#101010" opacity="0.21"/>
<rect x="180.93" y="603.92" width="9.13" height="3.80" rx="1.0" fill="#101010" opacity="1.00"/>
<rect x="192.10" y="604.56" width="7.10" height="1.84" rx="1.0" fill="#101010" opacity="0.26"/>
<rect x="221.53" y="604.32" width="9.13" height="3.80" rx="1.0" fill="#101010" opacity="1.00"/>
</g>
<rect x="1.90" y="601.40" width="137.40" height="10.90" fill="none" stroke="#707070" stroke-width="0.9"/>
<rect x="140.80" y="601.40" width="90.90" height="10.90" fill="none" stroke="#707070" stroke-width="0.9"/>
<text x="234.00" y="608.00" font-size="6.4" fill="#111" stroke="#111" stroke-width="0.09">EGFR</text>
<rect x="1.90" y="613.60" width="137.40" height="11.20" fill="#c2c2c2"/>
<rect x="140.80" y="613.60" width="90.90" height="11.20" fill="#c4c4c4"/>
<line x1="12.21" y1="616.96" x2="12.21" y2="621.44" stroke="#8a8a8a" stroke-width="0.35" opacity="0.55"/>
<line x1="21.83" y1="616.96" x2="21.83" y2="621.44" stroke="#8a8a8a" stroke-width="0.35" opacity="0.55"/>
<line x1="31.45" y1="616.96" x2="31.45" y2="621.44" stroke="#8a8a8a" stroke-width="0.35" opacity="0.55"/>
<line x1="41.07" y1="616.96" x2="41.07" y2="621.44" stroke="#8a8a8a" stroke-width="0.35" opacity="0.55"/>
<line x1="50.69" y1="616.96" x2="50.69" y2="621.44" stroke="#8a8a8a" stroke-width="0.35" opacity="0.55"/>
<line x1="60.31" y1="616.96" x2="60.31" y2="621.44" stroke="#8a8a8a" stroke-width="0.35" opacity="0.55"/>
<line x1="69.93" y1="616.96" x2="69.93" y2="621.44" stroke="#8a8a8a" stroke-width="0.35" opacity="0.55"/>
<line x1="79.55" y1="616.96" x2="79.55" y2="621.44" stroke="#8a8a8a" stroke-width="0.35" opacity="0.55"/>
<line x1="89.17" y1="616.96" x2="89.17" y2="621.44" stroke="#8a8a8a" stroke-width="0.35" opacity="0.55"/>
<line x1="98.79" y1="616.96" x2="98.79" y2="621.44" stroke="#8a8a8a" stroke-width="0.35" opacity="0.55"/>
<line x1="108.41" y1="616.96" x2="108.41" y2="621.44" stroke="#8a8a8a" stroke-width="0.35" opacity="0.55"/>
<line x1="118.03" y1="616.96" x2="118.03" y2="621.44" stroke="#8a8a8a" stroke-width="0.35" opacity="0.55"/>
<line x1="127.65" y1="616.96" x2="127.65" y2="621.44" stroke="#8a8a8a" stroke-width="0.35" opacity="0.55"/>
<line x1="149.98" y1="616.96" x2="149.98" y2="621.44" stroke="#8a8a8a" stroke-width="0.35" opacity="0.55"/>
<line x1="160.13" y1="616.96" x2="160.13" y2="621.44" stroke="#8a8a8a" stroke-width="0.35" opacity="0.55"/>
<line x1="170.28" y1="616.96" x2="170.28" y2="621.44" stroke="#8a8a8a" stroke-width="0.35" opacity="0.55"/>
<line x1="180.43" y1="616.96" x2="180.43" y2="621.44" stroke="#8a8a8a" stroke-width="0.35" opacity="0.55"/>
<line x1="190.58" y1="616.96" x2="190.58" y2="621.44" stroke="#8a8a8a" stroke-width="0.35" opacity="0.55"/>
<line x1="200.73" y1="616.96" x2="200.73" y2="621.44" stroke="#8a8a8a" stroke-width="0.35" opacity="0.55"/>
<line x1="210.88" y1="616.96" x2="210.88" y2="621.44" stroke="#8a8a8a" stroke-width="0.35" opacity="0.55"/>
<line x1="221.03" y1="616.96" x2="221.03" y2="621.44" stroke="#8a8a8a" stroke-width="0.35" opacity="0.55"/>
<g filter="url(#bl)">
<rect x="4.03" y="617.89" width="6.73" height="1.84" rx="1.0" fill="#101010" opacity="0.26"/>
<rect x="23.27" y="617.91" width="6.73" height="1.84" rx="1.0" fill="#101010" opacity="0.26"/>
<rect x="80.99" y="618.31" width="6.73" height="1.73" rx="1.0" fill="#101010" opacity="0.21"/>
<rect x="119.47" y="618.27" width="6.73" height="1.84" rx="1.0" fill="#101010" opacity="0.26"/>
</g>
<rect x="1.90" y="613.60" width="137.40" height="11.20" fill="none" stroke="#707070" stroke-width="0.9"/>
<rect x="140.80" y="613.60" width="90.90" height="11.20" fill="none" stroke="#707070" stroke-width="0.9"/>
<text x="234.00" y="620.42" font-size="6.4" fill="#111" stroke="#111" stroke-width="0.09">pEGFR</text>
<rect x="1.90" y="626.00" width="137.40" height="11.20" fill="#f6f6f6"/>
<rect x="140.80" y="626.00" width="90.90" height="11.20" fill="#f7f7f7"/>
<line x1="12.21" y1="629.36" x2="12.21" y2="633.84" stroke="#9a9a9a" stroke-width="0.35" opacity="0.55"/>
<line x1="21.83" y1="629.36" x2="21.83" y2="633.84" stroke="#9a9a9a" stroke-width="0.35" opacity="0.55"/>
<line x1="31.45" y1="629.36" x2="31.45" y2="633.84" stroke="#9a9a9a" stroke-width="0.35" opacity="0.55"/>
<line x1="41.07" y1="629.36" x2="41.07" y2="633.84" stroke="#9a9a9a" stroke-width="0.35" opacity="0.55"/>
<line x1="50.69" y1="629.36" x2="50.69" y2="633.84" stroke="#9a9a9a" stroke-width="0.35" opacity="0.55"/>
<line x1="60.31" y1="629.36" x2="60.31" y2="633.84" stroke="#9a9a9a" stroke-width="0.35" opacity="0.55"/>
<line x1="69.93" y1="629.36" x2="69.93" y2="633.84" stroke="#9a9a9a" stroke-width="0.35" opacity="0.55"/>
<line x1="79.55" y1="629.36" x2="79.55" y2="633.84" stroke="#9a9a9a" stroke-width="0.35" opacity="0.55"/>
<line x1="89.17" y1="629.36" x2="89.17" y2="633.84" stroke="#9a9a9a" stroke-width="0.35" opacity="0.55"/>
<line x1="98.79" y1="629.36" x2="98.79" y2="633.84" stroke="#9a9a9a" stroke-width="0.35" opacity="0.55"/>
<line x1="108.41" y1="629.36" x2="108.41" y2="633.84" stroke="#9a9a9a" stroke-width="0.35" opacity="0.55"/>
<line x1="118.03" y1="629.36" x2="118.03" y2="633.84" stroke="#9a9a9a" stroke-width="0.35" opacity="0.55"/>
<line x1="127.65" y1="629.36" x2="127.65" y2="633.84" stroke="#9a9a9a" stroke-width="0.35" opacity="0.55"/>
<line x1="149.98" y1="629.36" x2="149.98" y2="633.84" stroke="#9a9a9a" stroke-width="0.35" opacity="0.55"/>
<line x1="160.13" y1="629.36" x2="160.13" y2="633.84" stroke="#9a9a9a" stroke-width="0.35" opacity="0.55"/>
<line x1="170.28" y1="629.36" x2="170.28" y2="633.84" stroke="#9a9a9a" stroke-width="0.35" opacity="0.55"/>
<line x1="180.43" y1="629.36" x2="180.43" y2="633.84" stroke="#9a9a9a" stroke-width="0.35" opacity="0.55"/>
<line x1="190.58" y1="629.36" x2="190.58" y2="633.84" stroke="#9a9a9a" stroke-width="0.35" opacity="0.55"/>
<line x1="200.73" y1="629.36" x2="200.73" y2="633.84" stroke="#9a9a9a" stroke-width="0.35" opacity="0.55"/>
<line x1="210.88" y1="629.36" x2="210.88" y2="633.84" stroke="#9a9a9a" stroke-width="0.35" opacity="0.55"/>
<line x1="221.03" y1="629.36" x2="221.03" y2="633.84" stroke="#9a9a9a" stroke-width="0.35" opacity="0.55"/>
<g filter="url(#bl)">
<rect x="2.78" y="628.76" width="9.24" height="2.40" rx="1.0" fill="#101010" opacity="0.93"/>
<rect x="12.40" y="629.02" width="9.24" height="2.40" rx="1.0" fill="#101010" opacity="0.93"/>
<rect x="22.02" y="629.44" width="9.24" height="2.40" rx="1.0" fill="#101010" opacity="0.93"/>
<rect x="31.64" y="629.16" width="9.24" height="2.40" rx="1.0" fill="#101010" opacity="0.93"/>
<rect x="41.26" y="628.58" width="9.24" height="2.40" rx="1.0" fill="#101010" opacity="0.93"/>
<rect x="50.88" y="629.08" width="9.24" height="2.40" rx="1.0" fill="#101010" opacity="0.93"/>
<rect x="60.50" y="629.08" width="9.24" height="2.40" rx="1.0" fill="#101010" opacity="0.93"/>
<rect x="70.12" y="629.13" width="9.24" height="2.40" rx="1.0" fill="#101010" opacity="0.93"/>
<rect x="79.74" y="628.53" width="9.24" height="2.40" rx="1.0" fill="#101010" opacity="0.93"/>
<rect x="89.36" y="628.88" width="9.24" height="2.40" rx="1.0" fill="#101010" opacity="0.93"/>
<rect x="98.98" y="629.83" width="9.24" height="2.40" rx="1.0" fill="#101010" opacity="0.93"/>
<rect x="108.60" y="629.74" width="9.24" height="2.40" rx="1.0" fill="#101010" opacity="0.93"/>
<rect x="118.22" y="629.82" width="9.24" height="2.40" rx="1.0" fill="#101010" opacity="0.93"/>
<rect x="127.84" y="629.56" width="9.24" height="2.40" rx="1.0" fill="#101010" opacity="0.93"/>
<rect x="140.03" y="629.11" width="9.74" height="2.40" rx="1.0" fill="#101010" opacity="0.93"/>
<rect x="150.18" y="629.81" width="9.74" height="2.40" rx="1.0" fill="#101010" opacity="0.93"/>
<rect x="160.33" y="628.92" width="9.74" height="2.40" rx="1.0" fill="#101010" opacity="0.93"/>
<rect x="170.48" y="629.33" width="9.74" height="2.40" rx="1.0" fill="#101010" opacity="0.93"/>
<rect x="180.63" y="629.32" width="9.74" height="2.40" rx="1.0" fill="#101010" opacity="0.93"/>
<rect x="190.78" y="629.12" width="9.74" height="2.40" rx="1.0" fill="#101010" opacity="0.93"/>
<rect x="200.93" y="628.85" width="9.74" height="2.40" rx="1.0" fill="#101010" opacity="0.93"/>
<rect x="211.08" y="628.96" width="9.74" height="2.40" rx="1.0" fill="#101010" opacity="0.93"/>
<rect x="221.23" y="629.40" width="9.74" height="2.40" rx="1.0" fill="#101010" opacity="0.93"/>
</g>
<rect x="1.90" y="626.00" width="137.40" height="11.20" fill="none" stroke="#707070" stroke-width="0.9"/>
<rect x="140.80" y="626.00" width="90.90" height="11.20" fill="none" stroke="#707070" stroke-width="0.9"/>
<text x="234.00" y="632.90" font-size="6.4" fill="#111" stroke="#111" stroke-width="0.09">β-actin</text>
<line x1="11.00" y1="642.60" x2="136.00" y2="642.60" stroke="#333" stroke-width="0.7" stroke-dasharray="0.8 1.7"/>
<path d="M9.6,640.5 L5.2,642.6 L9.6,644.7 Z" fill="#222"/>
<line x1="142.30" y1="642.60" x2="228.00" y2="642.60" stroke="#333" stroke-width="0.7" stroke-dasharray="0.8 1.7"/>
<path d="M227.6,640.5 L231.6,642.6 L227.6,644.7 Z" fill="#222"/>
<text x="66.2" y="652.0" font-size="6.5" text-anchor="middle" fill="#222" stroke="#222" stroke-width="0.08">IC<tspan font-size="3.9" dy="1.2">50</tspan><tspan dy="-1.2"> &lt; 100 nmol/L</tspan></text>
<text x="187.9" y="652.0" font-size="6.5" text-anchor="middle" fill="#222" stroke="#222" stroke-width="0.08">IC<tspan font-size="3.9" dy="1.2">50</tspan><tspan dy="-1.2"> &gt; 1,000 nmol/L</tspan></text>
<text x="284.60" y="124.20" font-size="10.5" font-weight="bold" fill="#000" stroke="#000" stroke-width="0.15">E</text>
<text x="474.70" y="125.70" font-size="7.6" text-anchor="middle" fill="#222" stroke="#222" stroke-width="0.11">Prevalences</text>
<text x="474.70" y="134.50" font-size="7.6" text-anchor="middle" fill="#222" stroke="#222" stroke-width="0.11">in patient cohorts (%)</text>
<text x="443.30" y="145.70" font-size="7" text-anchor="middle" fill="#7d7d7d" stroke="#7d7d7d" stroke-width="0.10">0</text>
<line x1="443.30" y1="148.30" x2="443.30" y2="149.70" stroke="#555" stroke-width="0.5"/>
<text x="463.30" y="145.70" font-size="7" text-anchor="middle" fill="#7d7d7d" stroke="#7d7d7d" stroke-width="0.10">25</text>
<line x1="463.30" y1="148.30" x2="463.30" y2="149.70" stroke="#555" stroke-width="0.5"/>
<text x="483.30" y="145.70" font-size="7" text-anchor="middle" fill="#7d7d7d" stroke="#7d7d7d" stroke-width="0.10">50</text>
<line x1="483.30" y1="148.30" x2="483.30" y2="149.70" stroke="#555" stroke-width="0.5"/>
<text x="503.30" y="145.70" font-size="7" text-anchor="middle" fill="#7d7d7d" stroke="#7d7d7d" stroke-width="0.10">75</text>
<line x1="503.30" y1="148.30" x2="503.30" y2="149.70" stroke="#555" stroke-width="0.5"/>
<text x="435.5" y="160.05" font-size="7.7" text-anchor="end" fill="#111" stroke="#111" stroke-width="0.12">Breast carcinoma: HER2+ (<tspan font-style="italic">n</tspan> = 531)</text>
<line x1="438.00" y1="157.90" x2="439.60" y2="157.90" stroke="#333" stroke-width="0.5"/>
<rect x="442.80" y="151.25" width="74.30" height="13.30" fill="#8e8e8e"/>
<rect x="443.30" y="152.20" width="73.20" height="11.40" fill="#483a93" stroke="#262626" stroke-width="0.5"/>
<rect x="443.30" y="152.20" width="70.80" height="11.40" fill="#97bdbb" stroke="#262626" stroke-width="0.5"/>
<rect x="443.30" y="152.20" width="60.00" height="11.40" fill="#045f5d" stroke="#262626" stroke-width="0.5"/>
<text x="435.5" y="173.41" font-size="7.7" text-anchor="end" fill="#111" stroke="#111" stroke-width="0.12">Urothelial carcinoma (<tspan font-style="italic">n</tspan> = 2,496)</text>
<line x1="438.00" y1="171.22" x2="439.60" y2="171.22" stroke="#333" stroke-width="0.5"/>
<rect x="442.80" y="164.57" width="39.66" height="13.30" fill="#8e8e8e"/>
<rect x="443.30" y="165.52" width="38.56" height="11.40" fill="#483a93" stroke="#262626" stroke-width="0.5"/>
<rect x="443.30" y="165.52" width="21.04" height="11.40" fill="#97bdbb" stroke="#262626" stroke-width="0.5"/>
<rect x="443.30" y="165.52" width="5.84" height="11.40" fill="#045f5d" stroke="#262626" stroke-width="0.5"/>
<text x="435.5" y="186.77" font-size="7.7" text-anchor="end" fill="#111" stroke="#111" stroke-width="0.12">Gynecological clear-cell carcinoma (<tspan font-style="italic">n</tspan> = 258)</text>
<line x1="438.00" y1="184.55" x2="439.60" y2="184.55" stroke="#333" stroke-width="0.5"/>
<rect x="442.80" y="177.90" width="36.54" height="13.30" fill="#8e8e8e"/>
<rect x="443.30" y="178.85" width="35.44" height="11.40" fill="#483a93" stroke="#262626" stroke-width="0.5"/>
<rect x="443.30" y="178.85" width="26.80" height="11.40" fill="#97bdbb" stroke="#262626" stroke-width="0.5"/>
<rect x="443.30" y="178.85" width="6.40" height="11.40" fill="#045f5d" stroke="#262626" stroke-width="0.5"/>
<text x="435.5" y="200.13" font-size="7.7" text-anchor="end" fill="#111" stroke="#111" stroke-width="0.12">Salivary carcinoma (<tspan font-style="italic">n</tspan> = 127)</text>
<line x1="438.00" y1="197.87" x2="439.60" y2="197.87" stroke="#333" stroke-width="0.5"/>
<rect x="442.80" y="191.22" width="33.58" height="13.30" fill="#8e8e8e"/>
<rect x="443.30" y="192.17" width="32.48" height="11.40" fill="#483a93" stroke="#262626" stroke-width="0.5"/>
<rect x="443.30" y="192.17" width="18.40" height="11.40" fill="#97bdbb" stroke="#262626" stroke-width="0.5"/>
<rect x="443.30" y="192.17" width="12.40" height="11.40" fill="#045f5d" stroke="#262626" stroke-width="0.5"/>
<text x="435.5" y="213.49" font-size="7.7" text-anchor="end" fill="#111" stroke="#111" stroke-width="0.12">Breast carcinoma: HER2−low (<tspan font-style="italic">n</tspan> = 2,931)</text>
<line x1="438.00" y1="211.20" x2="439.60" y2="211.20" stroke="#333" stroke-width="0.5"/>
<rect x="442.80" y="204.55" width="30.70" height="13.30" fill="#8e8e8e"/>
<rect x="443.30" y="205.50" width="29.60" height="11.40" fill="#483a93" stroke="#262626" stroke-width="0.5"/>
<rect x="443.30" y="205.50" width="16.00" height="11.40" fill="#97bdbb" stroke="#262626" stroke-width="0.5"/>
<rect x="443.30" y="205.50" width="0.80" height="11.40" fill="#045f5d" stroke="#262626" stroke-width="0.5"/>
<text x="435.5" y="226.85" font-size="7.7" text-anchor="end" fill="#111" stroke="#111" stroke-width="0.12">Endometrial serous carcinoma (<tspan font-style="italic">n</tspan> = 442)</text>
<line x1="438.00" y1="224.52" x2="439.60" y2="224.52" stroke="#333" stroke-width="0.5"/>
<rect x="442.80" y="217.88" width="29.10" height="13.30" fill="#8e8e8e"/>
<rect x="443.30" y="218.82" width="28.00" height="11.40" fill="#483a93" stroke="#262626" stroke-width="0.5"/>
<rect x="443.30" y="218.82" width="23.84" height="11.40" fill="#97bdbb" stroke="#262626" stroke-width="0.5"/>
<rect x="443.30" y="218.82" width="15.04" height="11.40" fill="#045f5d" stroke="#262626" stroke-width="0.5"/>
<text x="435.5" y="240.21" font-size="7.7" text-anchor="end" fill="#111" stroke="#111" stroke-width="0.12">Breast carcinoma: NOS (<tspan font-style="italic">n</tspan> = 4,038)</text>
<line x1="438.00" y1="237.85" x2="439.60" y2="237.85" stroke="#333" stroke-width="0.5"/>
<rect x="442.80" y="231.20" width="27.90" height="13.30" fill="#8e8e8e"/>
<rect x="443.30" y="232.15" width="26.80" height="11.40" fill="#483a93" stroke="#262626" stroke-width="0.5"/>
<rect x="443.30" y="232.15" width="16.80" height="11.40" fill="#97bdbb" stroke="#262626" stroke-width="0.5"/>
<rect x="443.30" y="232.15" width="4.96" height="11.40" fill="#045f5d" stroke="#262626" stroke-width="0.5"/>
<text x="435.5" y="253.57" font-size="7.7" text-anchor="end" fill="#111" stroke="#111" stroke-width="0.12">NSCLC: lung adenocarcinoma (<tspan font-style="italic">n</tspan> = 5,634)</text>
<line x1="438.00" y1="251.17" x2="439.60" y2="251.17" stroke="#333" stroke-width="0.5"/>
<rect x="442.80" y="244.52" width="18.14" height="13.30" fill="#8e8e8e"/>
<rect x="443.30" y="245.47" width="17.04" height="11.40" fill="#483a93" stroke="#262626" stroke-width="0.5"/>
<rect x="443.30" y="245.47" width="9.84" height="11.40" fill="#97bdbb" stroke="#262626" stroke-width="0.5"/>
<rect x="443.30" y="245.47" width="0.80" height="11.40" fill="#045f5d" stroke="#262626" stroke-width="0.5"/>
<text x="435.5" y="266.93" font-size="7.7" text-anchor="end" fill="#111" stroke="#111" stroke-width="0.12">Gastroesophageal adenocarcinoma (<tspan font-style="italic">n</tspan> = 2,500)</text>
<line x1="438.00" y1="264.50" x2="439.60" y2="264.50" stroke="#333" stroke-width="0.5"/>
<rect x="442.80" y="257.85" width="17.50" height="13.30" fill="#8e8e8e"/>
<rect x="443.30" y="258.80" width="16.40" height="11.40" fill="#483a93" stroke="#262626" stroke-width="0.5"/>
<rect x="443.30" y="258.80" width="14.00" height="11.40" fill="#97bdbb" stroke="#262626" stroke-width="0.5"/>
<rect x="443.30" y="258.80" width="10.40" height="11.40" fill="#045f5d" stroke="#262626" stroke-width="0.5"/>
<text x="433.3" y="280.29" font-size="7.7" text-anchor="end" fill="#111" stroke="#111" stroke-width="0.12">Pan-cancer (<tspan font-style="italic">n</tspan> = 60,123) </text>
<line x1="438.00" y1="277.82" x2="439.60" y2="277.82" stroke="#333" stroke-width="0.5"/>
<rect x="442.80" y="271.18" width="13.10" height="13.30" fill="#8e8e8e"/>
<rect x="443.30" y="272.12" width="12.00" height="11.40" fill="#483a93" stroke="#262626" stroke-width="0.5"/>
<rect x="443.30" y="272.12" width="7.36" height="11.40" fill="#97bdbb" stroke="#262626" stroke-width="0.5"/>
<rect x="443.30" y="272.12" width="2.80" height="11.40" fill="#045f5d" stroke="#262626" stroke-width="0.5"/>
<text x="435.5" y="293.65" font-size="7.7" text-anchor="end" fill="#111" stroke="#111" stroke-width="0.12">Cholangiocarcinoma (<tspan font-style="italic">n</tspan> = 1,495)</text>
<line x1="438.00" y1="291.15" x2="439.60" y2="291.15" stroke="#333" stroke-width="0.5"/>
<rect x="442.80" y="284.50" width="12.54" height="13.30" fill="#8e8e8e"/>
<rect x="443.30" y="285.45" width="11.44" height="11.40" fill="#483a93" stroke="#262626" stroke-width="0.5"/>
<rect x="443.30" y="285.45" width="8.80" height="11.40" fill="#97bdbb" stroke="#262626" stroke-width="0.5"/>
<rect x="443.30" y="285.45" width="4.00" height="11.40" fill="#045f5d" stroke="#262626" stroke-width="0.5"/>
<text x="435.5" y="307.01" font-size="7.7" text-anchor="end" fill="#111" stroke="#111" stroke-width="0.12">Breast carcinoma: HR+HER2− (<tspan font-style="italic">n</tspan> = 1,149)</text>
<line x1="438.00" y1="304.47" x2="439.60" y2="304.47" stroke="#333" stroke-width="0.5"/>
<rect x="442.80" y="297.82" width="12.30" height="13.30" fill="#8e8e8e"/>
<rect x="443.30" y="298.77" width="11.20" height="11.40" fill="#483a93" stroke="#262626" stroke-width="0.5"/>
<rect x="443.30" y="298.77" width="5.36" height="11.40" fill="#97bdbb" stroke="#262626" stroke-width="0.5"/>
<rect x="443.30" y="298.77" width="0.80" height="11.40" fill="#045f5d" stroke="#262626" stroke-width="0.5"/>
<text x="435.5" y="320.37" font-size="7.7" text-anchor="end" fill="#111" stroke="#111" stroke-width="0.12">Thyroid cancers (<tspan font-style="italic">n</tspan> = 499)</text>
<line x1="438.00" y1="317.80" x2="439.60" y2="317.80" stroke="#333" stroke-width="0.5"/>
<rect x="442.80" y="311.15" width="11.18" height="13.30" fill="#8e8e8e"/>
<rect x="443.30" y="312.10" width="10.08" height="11.40" fill="#483a93" stroke="#262626" stroke-width="0.5"/>
<rect x="443.30" y="312.10" width="2.96" height="11.40" fill="#97bdbb" stroke="#262626" stroke-width="0.5"/>
<rect x="443.30" y="312.10" width="0.24" height="11.40" fill="#045f5d" stroke="#262626" stroke-width="0.5"/>
<text x="435.5" y="333.73" font-size="7.7" text-anchor="end" fill="#111" stroke="#111" stroke-width="0.12">Ovarian serous carcinoma (<tspan font-style="italic">n</tspan> = 3,320)</text>
<line x1="438.00" y1="331.12" x2="439.60" y2="331.12" stroke="#333" stroke-width="0.5"/>
<rect x="442.80" y="324.47" width="10.70" height="13.30" fill="#8e8e8e"/>
<rect x="443.30" y="325.42" width="9.60" height="11.40" fill="#483a93" stroke="#262626" stroke-width="0.5"/>
<rect x="443.30" y="325.42" width="4.96" height="11.40" fill="#97bdbb" stroke="#262626" stroke-width="0.5"/>
<rect x="443.30" y="325.42" width="2.40" height="11.40" fill="#045f5d" stroke="#262626" stroke-width="0.5"/>
<text x="435.5" y="347.09" font-size="7.7" text-anchor="end" fill="#111" stroke="#111" stroke-width="0.12">Carcinosarcoma (<tspan font-style="italic">n</tspan> = 347)</text>
<line x1="438.00" y1="344.45" x2="439.60" y2="344.45" stroke="#333" stroke-width="0.5"/>
<rect x="442.80" y="337.80" width="10.30" height="13.30" fill="#8e8e8e"/>
<rect x="443.30" y="338.75" width="9.20" height="11.40" fill="#483a93" stroke="#262626" stroke-width="0.5"/>
<rect x="443.30" y="338.75" width="5.28" height="11.40" fill="#97bdbb" stroke="#262626" stroke-width="0.5"/>
<rect x="443.30" y="338.75" width="2.40" height="11.40" fill="#045f5d" stroke="#262626" stroke-width="0.5"/>
<text x="435.5" y="360.45" font-size="7.7" text-anchor="end" fill="#111" stroke="#111" stroke-width="0.12">Cervical carcinoma (<tspan font-style="italic">n</tspan> = 644)</text>
<line x1="438.00" y1="357.77" x2="439.60" y2="357.77" stroke="#333" stroke-width="0.5"/>
<rect x="442.80" y="351.12" width="9.90" height="13.30" fill="#8e8e8e"/>
<rect x="443.30" y="352.07" width="8.80" height="11.40" fill="#483a93" stroke="#262626" stroke-width="0.5"/>
<rect x="443.30" y="352.07" width="5.20" height="11.40" fill="#97bdbb" stroke="#262626" stroke-width="0.5"/>
<rect x="443.30" y="352.07" width="2.40" height="11.40" fill="#045f5d" stroke="#262626" stroke-width="0.5"/>
<text x="435.5" y="373.81" font-size="7.7" text-anchor="end" fill="#111" stroke="#111" stroke-width="0.12">Prostatic adenocarcinoma (<tspan font-style="italic">n</tspan> = 4,854)</text>
<line x1="438.00" y1="371.10" x2="439.60" y2="371.10" stroke="#333" stroke-width="0.5"/>
<rect x="442.80" y="364.45" width="9.90" height="13.30" fill="#8e8e8e"/>
<rect x="443.30" y="365.40" width="8.80" height="11.40" fill="#483a93" stroke="#262626" stroke-width="0.5"/>
<rect x="443.30" y="365.40" width="2.80" height="11.40" fill="#97bdbb" stroke="#262626" stroke-width="0.5"/>
<rect x="443.30" y="365.40" width="0.80" height="11.40" fill="#045f5d" stroke="#262626" stroke-width="0.5"/>
<text x="435.5" y="387.17" font-size="7.7" text-anchor="end" fill="#111" stroke="#111" stroke-width="0.12">Adenoid cystic carcinoma (<tspan font-style="italic">n</tspan> = 104)</text>
<line x1="438.00" y1="384.42" x2="439.60" y2="384.42" stroke="#333" stroke-width="0.5"/>
<rect x="442.80" y="377.77" width="9.50" height="13.30" fill="#8e8e8e"/>
<rect x="443.30" y="378.72" width="8.40" height="11.40" fill="#483a93" stroke="#262626" stroke-width="0.5"/>
<rect x="443.30" y="378.72" width="4.80" height="11.40" fill="#97bdbb" stroke="#262626" stroke-width="0.5"/>
<rect x="443.30" y="378.72" width="1.20" height="11.40" fill="#045f5d" stroke="#262626" stroke-width="0.5"/>
<text x="435.5" y="400.53" font-size="7.7" text-anchor="end" fill="#111" stroke="#111" stroke-width="0.12">Small bowel adenocarcinoma (<tspan font-style="italic">n</tspan> = 121)</text>
<line x1="438.00" y1="397.75" x2="439.60" y2="397.75" stroke="#333" stroke-width="0.5"/>
<rect x="442.80" y="391.10" width="9.10" height="13.30" fill="#8e8e8e"/>
<rect x="443.30" y="392.05" width="8.00" height="11.40" fill="#483a93" stroke="#262626" stroke-width="0.5"/>
<rect x="443.30" y="392.05" width="2.88" height="11.40" fill="#97bdbb" stroke="#262626" stroke-width="0.5"/>
<rect x="443.30" y="392.05" width="0.80" height="11.40" fill="#045f5d" stroke="#262626" stroke-width="0.5"/>
<text x="435.5" y="413.89" font-size="7.7" text-anchor="end" fill="#111" stroke="#111" stroke-width="0.12">Pancreatic adenocarcinoma (<tspan font-style="italic">n</tspan> = 4,627)</text>
<line x1="438.00" y1="411.07" x2="439.60" y2="411.07" stroke="#333" stroke-width="0.5"/>
<rect x="442.80" y="404.43" width="8.46" height="13.30" fill="#8e8e8e"/>
<rect x="443.30" y="405.38" width="7.36" height="11.40" fill="#483a93" stroke="#262626" stroke-width="0.5"/>
<rect x="443.30" y="405.38" width="4.40" height="11.40" fill="#97bdbb" stroke="#262626" stroke-width="0.5"/>
<rect x="443.30" y="405.38" width="1.60" height="11.40" fill="#045f5d" stroke="#262626" stroke-width="0.5"/>
<text x="435.5" y="427.25" font-size="7.7" text-anchor="end" fill="#111" stroke="#111" stroke-width="0.12">Endometrioid carcinoma (<tspan font-style="italic">n</tspan> = 910)</text>
<line x1="438.00" y1="424.40" x2="439.60" y2="424.40" stroke="#333" stroke-width="0.5"/>
<rect x="442.80" y="417.75" width="7.50" height="13.30" fill="#8e8e8e"/>
<rect x="443.30" y="418.70" width="6.40" height="11.40" fill="#483a93" stroke="#262626" stroke-width="0.5"/>
<rect x="443.30" y="418.70" width="3.36" height="11.40" fill="#97bdbb" stroke="#262626" stroke-width="0.5"/>
<rect x="443.30" y="418.70" width="1.28" height="11.40" fill="#045f5d" stroke="#262626" stroke-width="0.5"/>
<text x="435.5" y="440.61" font-size="7.7" text-anchor="end" fill="#111" stroke="#111" stroke-width="0.12">Colorectal adenocarcinoma (<tspan font-style="italic">n</tspan> = 9397)</text>
<line x1="438.00" y1="437.72" x2="439.60" y2="437.72" stroke="#333" stroke-width="0.5"/>
<rect x="442.80" y="431.07" width="6.86" height="13.30" fill="#8e8e8e"/>
<rect x="443.30" y="432.02" width="5.76" height="11.40" fill="#483a93" stroke="#262626" stroke-width="0.5"/>
<rect x="443.30" y="432.02" width="4.00" height="11.40" fill="#97bdbb" stroke="#262626" stroke-width="0.5"/>
<rect x="443.30" y="432.02" width="2.40" height="11.40" fill="#045f5d" stroke="#262626" stroke-width="0.5"/>
<text x="435.5" y="453.97" font-size="7.7" text-anchor="end" fill="#111" stroke="#111" stroke-width="0.12">Gastroesophageal squamous cell (<tspan font-style="italic">n</tspan> = 307)</text>
<line x1="438.00" y1="451.05" x2="439.60" y2="451.05" stroke="#333" stroke-width="0.5"/>
<rect x="442.80" y="444.40" width="5.26" height="13.30" fill="#8e8e8e"/>
<rect x="443.30" y="445.35" width="4.16" height="11.40" fill="#483a93" stroke="#262626" stroke-width="0.5"/>
<rect x="443.30" y="445.35" width="3.60" height="11.40" fill="#97bdbb" stroke="#262626" stroke-width="0.5"/>
<rect x="443.30" y="445.35" width="3.20" height="11.40" fill="#045f5d" stroke="#262626" stroke-width="0.5"/>
<text x="435.5" y="467.33" font-size="7.7" text-anchor="end" fill="#111" stroke="#111" stroke-width="0.12">Breast carcinoma: TNBC (<tspan font-style="italic">n</tspan> = 638)</text>
<line x1="438.00" y1="464.37" x2="439.60" y2="464.37" stroke="#333" stroke-width="0.5"/>
<rect x="442.80" y="457.72" width="5.10" height="13.30" fill="#8e8e8e"/>
<rect x="443.30" y="458.67" width="4.00" height="11.40" fill="#483a93" stroke="#262626" stroke-width="0.5"/>
<rect x="443.30" y="458.67" width="1.20" height="11.40" fill="#97bdbb" stroke="#262626" stroke-width="0.5"/>
<rect x="443.30" y="458.67" width="0.40" height="11.40" fill="#045f5d" stroke="#262626" stroke-width="0.5"/>
<text x="435.5" y="480.69" font-size="7.7" text-anchor="end" fill="#111" stroke="#111" stroke-width="0.12">Skin squamous and basal cell (<tspan font-style="italic">n</tspan> = 347)</text>
<line x1="438.00" y1="477.70" x2="439.60" y2="477.70" stroke="#333" stroke-width="0.5"/>
<rect x="442.80" y="471.05" width="4.46" height="13.30" fill="#8e8e8e"/>
<rect x="443.30" y="472.00" width="3.36" height="11.40" fill="#483a93" stroke="#262626" stroke-width="0.5"/>
<rect x="443.30" y="472.00" width="0.40" height="11.40" fill="#97bdbb" stroke="#262626" stroke-width="0.5"/>
<text x="435.5" y="494.05" font-size="7.7" text-anchor="end" fill="#111" stroke="#111" stroke-width="0.12">NSCLC: lung squamous cell (<tspan font-style="italic">n</tspan> = 2,088)</text>
<line x1="438.00" y1="491.02" x2="439.60" y2="491.02" stroke="#333" stroke-width="0.5"/>
<rect x="442.80" y="484.38" width="2.86" height="13.30" fill="#8e8e8e"/>
<rect x="443.30" y="485.32" width="1.76" height="11.40" fill="#14122a" stroke="#262626" stroke-width="0.5"/>
<text x="435.5" y="507.41" font-size="7.7" text-anchor="end" fill="#111" stroke="#111" stroke-width="0.12">Head and neck squamous cell (<tspan font-style="italic">n</tspan> = 1,785)</text>
<line x1="438.00" y1="504.35" x2="439.60" y2="504.35" stroke="#333" stroke-width="0.5"/>
<rect x="442.80" y="497.70" width="2.62" height="13.30" fill="#8e8e8e"/>
<rect x="443.30" y="498.65" width="1.52" height="11.40" fill="#14122a" stroke="#262626" stroke-width="0.5"/>
<rect x="439.6" y="149.7" width="79.8" height="362.1" fill="none" stroke="#3a3a3a" stroke-width="0.75"/>
<rect x="323.80" y="524.30" width="11.20" height="10.80" fill="#483a93"/>
<text x="339.8" y="532.40" font-size="7.6" fill="#111">HER2 overexpressed/<tspan font-style="italic">ERBB2</tspan> nonamplified (CN ≤ 2)</text>
<rect x="323.80" y="536.10" width="11.20" height="10.80" fill="#97bdbb"/>
<text x="339.8" y="544.20" font-size="7.6" fill="#111">HER2 overexpressed/<tspan font-style="italic">ERBB2</tspan> low-amplified (CN 3–5)</text>
<rect x="323.80" y="548.00" width="11.20" height="10.80" fill="#045f5d"/>
<text x="339.8" y="556.10" font-size="7.6" fill="#111"><tspan font-style="italic">ERBB2</tspan>-amplified (CN ≥ 6)</text>
</svg>
</body></html>
